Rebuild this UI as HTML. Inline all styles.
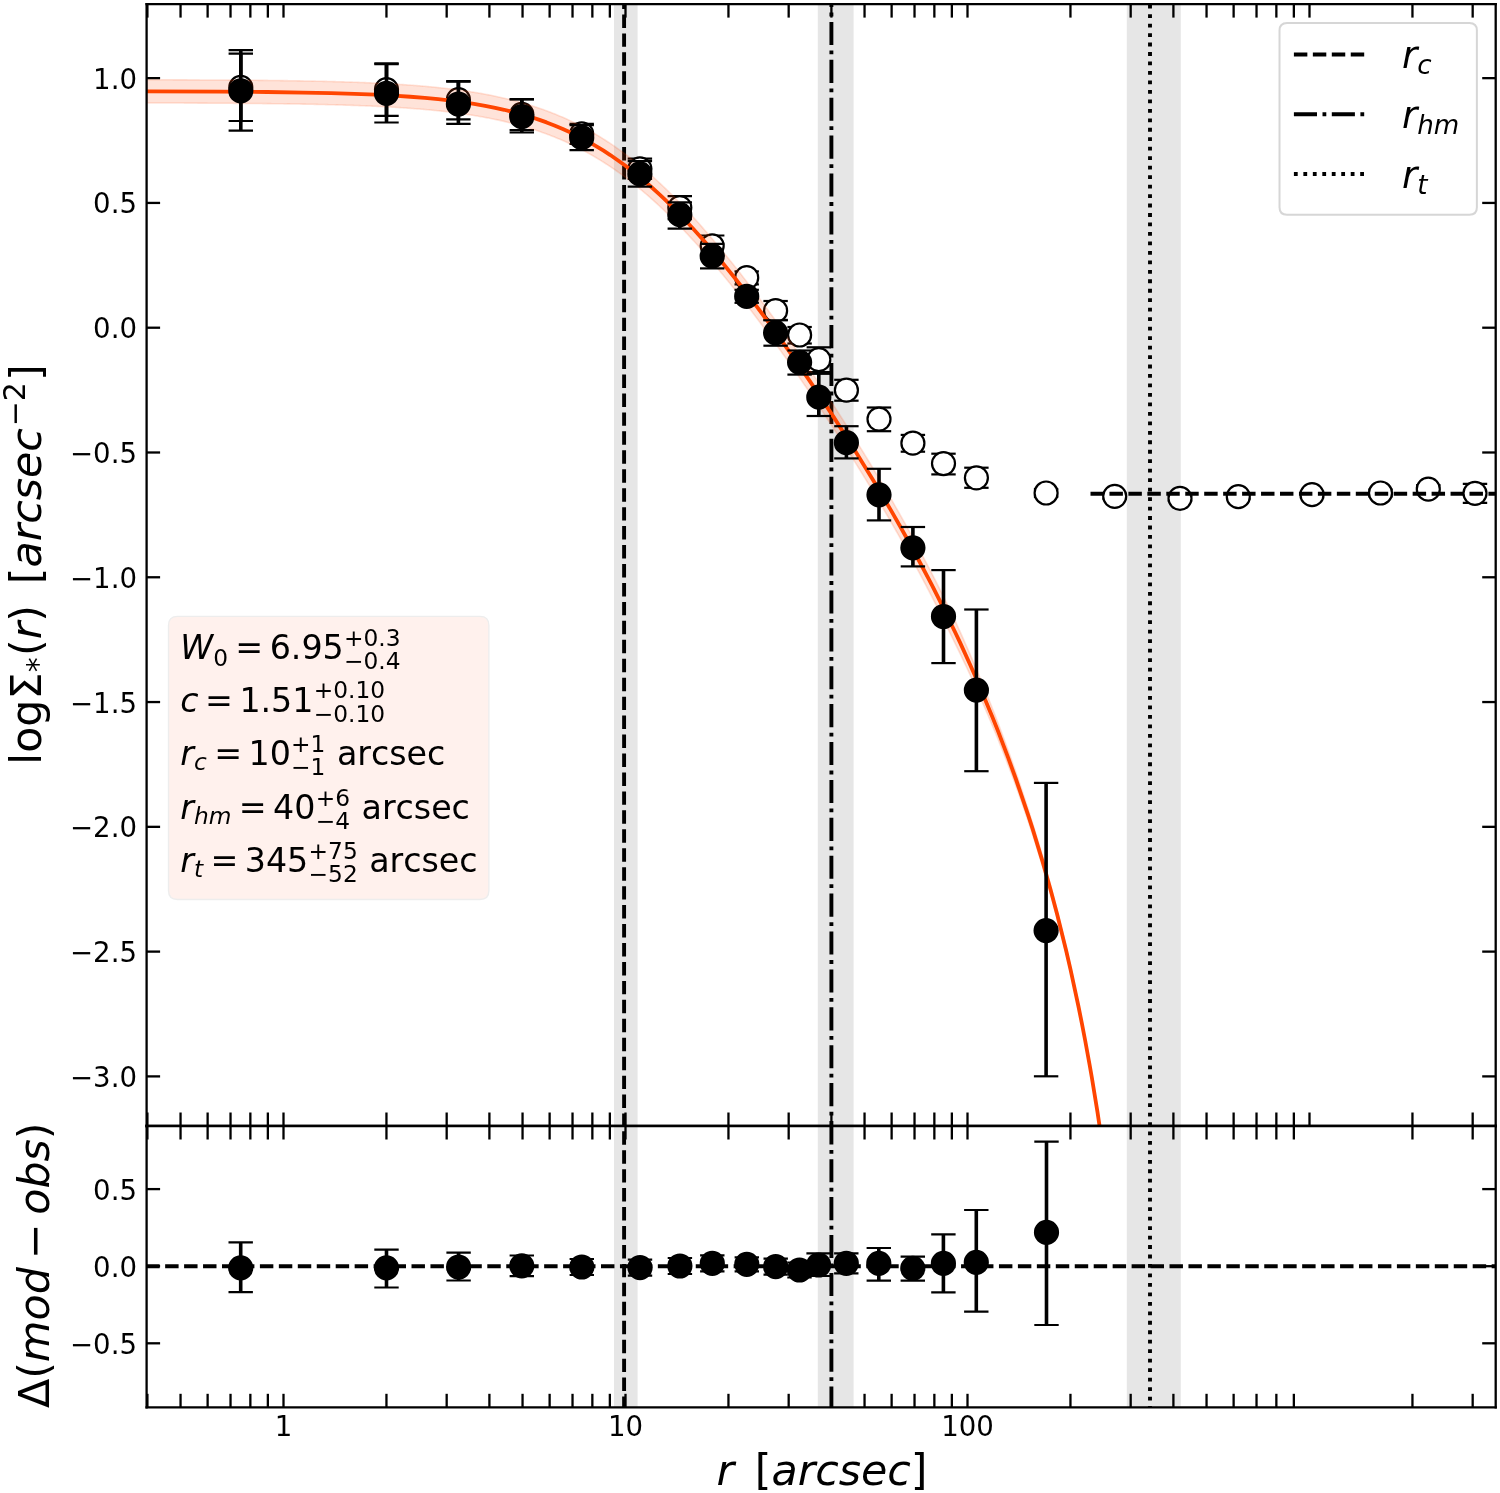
<!DOCTYPE html>
<html lang="en"><head><meta charset="utf-8"><title>King model fit</title>
<style>html,body{margin:0;padding:0;background:#fff;}body{width:1500px;height:1493px;overflow:hidden;font-family:"DejaVu Sans","Liberation Sans",sans-serif;}svg{display:block;}</style></head>
<body>
<svg width="1500" height="1493" viewBox="0 0 1500 1493" role="img" aria-label="King model fit to the stellar surface density profile">
 <defs>
  <style type="text/css">*{stroke-linejoin: round; stroke-linecap: butt}</style>
 </defs>
 <g id="figure_1">
  <g id="patch_1">
   <path d="M 0 1493 
L 1500 1493 
L 1500 0 
L 0 0 
z
" style="fill: #ffffff"/>
  </g>
  <g id="axes_1">
   <g id="patch_2">
    <path d="M 146.6 1126 
L 1495.7 1126 
L 1495.7 4.1 
L 146.6 4.1 
z
" style="fill: #ffffff"/>
   </g>
   <g id="patch_3">
    <path d="M 614 1126 
L 637.6 1126 
L 637.6 4.1 
L 614 4.1 
z
" clip-path="url(#pf368dae28a)" style="fill: #808080; opacity: 0.2"/>
   </g>
   <g id="patch_4">
    <path d="M 817.8 1126 
L 853.6 1126 
L 853.6 4.1 
L 817.8 4.1 
z
" clip-path="url(#pf368dae28a)" style="fill: #808080; opacity: 0.2"/>
   </g>
   <g id="patch_5">
    <path d="M 1126.8 1126 
L 1180.8 1126 
L 1180.8 4.1 
L 1126.8 4.1 
z
" clip-path="url(#pf368dae28a)" style="fill: #808080; opacity: 0.2"/>
   </g>
   <g id="line2d_1">
    <path d="M 624.1 1126 
L 624.1 4.1 
" clip-path="url(#pf368dae28a)" style="fill: none; stroke-dasharray: 13.45,5.5; stroke-dashoffset: 1; stroke: #000000; stroke-width: 3.9"/>
   </g>
   <g id="line2d_2">
    <path d="M 831.4 1126 
L 831.4 4.1 
" clip-path="url(#pf368dae28a)" style="fill: none; stroke-dasharray: 23.1,5.5,3.8,5.5; stroke-dashoffset: 18.1; stroke: #000000; stroke-width: 3.9"/>
   </g>
   <g id="line2d_3">
    <path d="M 1150 1126 
L 1150 4.1 
" clip-path="url(#pf368dae28a)" style="fill: none; stroke-dasharray: 3.8,5.67; stroke-dashoffset: 0; stroke: #000000; stroke-width: 3.9"/>
   </g>
   <g id="LineCollection_1">
    <path d="M 240.8 121 
L 240.8 53.6 
" clip-path="url(#pf368dae28a)" style="fill: none; stroke: #000000; stroke-width: 3.6"/>
    <path d="M 386.5 115.8 
L 386.5 63.3 
" clip-path="url(#pf368dae28a)" style="fill: none; stroke: #000000; stroke-width: 3.6"/>
    <path d="M 458.4 119.4 
L 458.4 81.2 
" clip-path="url(#pf368dae28a)" style="fill: none; stroke: #000000; stroke-width: 3.6"/>
    <path d="M 521.8 130.1 
L 521.8 99.1 
" clip-path="url(#pf368dae28a)" style="fill: none; stroke: #000000; stroke-width: 3.6"/>
    <path d="M 581.7 144 
L 581.7 123.8 
" clip-path="url(#pf368dae28a)" style="fill: none; stroke: #000000; stroke-width: 3.6"/>
    <path d="M 639.9 179 
L 639.9 158.6 
" clip-path="url(#pf368dae28a)" style="fill: none; stroke: #000000; stroke-width: 3.6"/>
    <path d="M 679.8 219.1 
L 679.8 196.1 
" clip-path="url(#pf368dae28a)" style="fill: none; stroke: #000000; stroke-width: 3.6"/>
    <path d="M 712.2 256.1 
L 712.2 235.5 
" clip-path="url(#pf368dae28a)" style="fill: none; stroke: #000000; stroke-width: 3.6"/>
    <path d="M 746.7 284.4 
L 746.7 271.4 
" clip-path="url(#pf368dae28a)" style="fill: none; stroke: #000000; stroke-width: 3.6"/>
    <path d="M 775.6 319.9 
L 775.6 301 
" clip-path="url(#pf368dae28a)" style="fill: none; stroke: #000000; stroke-width: 3.6"/>
    <path d="M 799.6 343.5 
L 799.6 327 
" clip-path="url(#pf368dae28a)" style="fill: none; stroke: #000000; stroke-width: 3.6"/>
    <path d="M 818.8 372.1 
L 818.8 347.3 
" clip-path="url(#pf368dae28a)" style="fill: none; stroke: #000000; stroke-width: 3.6"/>
    <path d="M 846.4 400.7 
L 846.4 379.8 
" clip-path="url(#pf368dae28a)" style="fill: none; stroke: #000000; stroke-width: 3.6"/>
    <path d="M 879 431.2 
L 879 407.5 
" clip-path="url(#pf368dae28a)" style="fill: none; stroke: #000000; stroke-width: 3.6"/>
    <path d="M 912.9 451.7 
L 912.9 434.9 
" clip-path="url(#pf368dae28a)" style="fill: none; stroke: #000000; stroke-width: 3.6"/>
    <path d="M 943.5 474.4 
L 943.5 453.7 
" clip-path="url(#pf368dae28a)" style="fill: none; stroke: #000000; stroke-width: 3.6"/>
    <path d="M 976.4 487.8 
L 976.4 467.7 
" clip-path="url(#pf368dae28a)" style="fill: none; stroke: #000000; stroke-width: 3.6"/>
    <path d="M 1046.1 497 
L 1046.1 489 
" clip-path="url(#pf368dae28a)" style="fill: none; stroke: #000000; stroke-width: 3.6"/>
   </g>
   <g id="line2d_4">
    <defs>
     <path id="m9b4687b812" d="M 12.2 0 
L -12.2 -0 
" style="stroke: #000000; stroke-width: 2.2"/>
    </defs>
    <g clip-path="url(#pf368dae28a)">
     <use xlink:href="#m9b4687b812" x="240.8" y="121" style="fill: #1f77b4; stroke: #000000; stroke-width: 2.2"/>
     <use xlink:href="#m9b4687b812" x="386.5" y="115.8" style="fill: #1f77b4; stroke: #000000; stroke-width: 2.2"/>
     <use xlink:href="#m9b4687b812" x="458.4" y="119.4" style="fill: #1f77b4; stroke: #000000; stroke-width: 2.2"/>
     <use xlink:href="#m9b4687b812" x="521.8" y="130.1" style="fill: #1f77b4; stroke: #000000; stroke-width: 2.2"/>
     <use xlink:href="#m9b4687b812" x="581.7" y="144" style="fill: #1f77b4; stroke: #000000; stroke-width: 2.2"/>
     <use xlink:href="#m9b4687b812" x="639.9" y="179" style="fill: #1f77b4; stroke: #000000; stroke-width: 2.2"/>
     <use xlink:href="#m9b4687b812" x="679.8" y="219.1" style="fill: #1f77b4; stroke: #000000; stroke-width: 2.2"/>
     <use xlink:href="#m9b4687b812" x="712.2" y="256.1" style="fill: #1f77b4; stroke: #000000; stroke-width: 2.2"/>
     <use xlink:href="#m9b4687b812" x="746.7" y="284.4" style="fill: #1f77b4; stroke: #000000; stroke-width: 2.2"/>
     <use xlink:href="#m9b4687b812" x="775.6" y="319.9" style="fill: #1f77b4; stroke: #000000; stroke-width: 2.2"/>
     <use xlink:href="#m9b4687b812" x="799.6" y="343.5" style="fill: #1f77b4; stroke: #000000; stroke-width: 2.2"/>
     <use xlink:href="#m9b4687b812" x="818.8" y="372.1" style="fill: #1f77b4; stroke: #000000; stroke-width: 2.2"/>
     <use xlink:href="#m9b4687b812" x="846.4" y="400.7" style="fill: #1f77b4; stroke: #000000; stroke-width: 2.2"/>
     <use xlink:href="#m9b4687b812" x="879" y="431.2" style="fill: #1f77b4; stroke: #000000; stroke-width: 2.2"/>
     <use xlink:href="#m9b4687b812" x="912.9" y="451.7" style="fill: #1f77b4; stroke: #000000; stroke-width: 2.2"/>
     <use xlink:href="#m9b4687b812" x="943.5" y="474.4" style="fill: #1f77b4; stroke: #000000; stroke-width: 2.2"/>
     <use xlink:href="#m9b4687b812" x="976.4" y="487.8" style="fill: #1f77b4; stroke: #000000; stroke-width: 2.2"/>
     <use xlink:href="#m9b4687b812" x="1046.1" y="497" style="fill: #1f77b4; stroke: #000000; stroke-width: 2.2"/>
    </g>
   </g>
   <g id="line2d_5">
    <g clip-path="url(#pf368dae28a)">
     <use xlink:href="#m9b4687b812" x="240.8" y="53.6" style="fill: #1f77b4; stroke: #000000; stroke-width: 2.2"/>
     <use xlink:href="#m9b4687b812" x="386.5" y="63.3" style="fill: #1f77b4; stroke: #000000; stroke-width: 2.2"/>
     <use xlink:href="#m9b4687b812" x="458.4" y="81.2" style="fill: #1f77b4; stroke: #000000; stroke-width: 2.2"/>
     <use xlink:href="#m9b4687b812" x="521.8" y="99.1" style="fill: #1f77b4; stroke: #000000; stroke-width: 2.2"/>
     <use xlink:href="#m9b4687b812" x="581.7" y="123.8" style="fill: #1f77b4; stroke: #000000; stroke-width: 2.2"/>
     <use xlink:href="#m9b4687b812" x="639.9" y="158.6" style="fill: #1f77b4; stroke: #000000; stroke-width: 2.2"/>
     <use xlink:href="#m9b4687b812" x="679.8" y="196.1" style="fill: #1f77b4; stroke: #000000; stroke-width: 2.2"/>
     <use xlink:href="#m9b4687b812" x="712.2" y="235.5" style="fill: #1f77b4; stroke: #000000; stroke-width: 2.2"/>
     <use xlink:href="#m9b4687b812" x="746.7" y="271.4" style="fill: #1f77b4; stroke: #000000; stroke-width: 2.2"/>
     <use xlink:href="#m9b4687b812" x="775.6" y="301" style="fill: #1f77b4; stroke: #000000; stroke-width: 2.2"/>
     <use xlink:href="#m9b4687b812" x="799.6" y="327" style="fill: #1f77b4; stroke: #000000; stroke-width: 2.2"/>
     <use xlink:href="#m9b4687b812" x="818.8" y="347.3" style="fill: #1f77b4; stroke: #000000; stroke-width: 2.2"/>
     <use xlink:href="#m9b4687b812" x="846.4" y="379.8" style="fill: #1f77b4; stroke: #000000; stroke-width: 2.2"/>
     <use xlink:href="#m9b4687b812" x="879" y="407.5" style="fill: #1f77b4; stroke: #000000; stroke-width: 2.2"/>
     <use xlink:href="#m9b4687b812" x="912.9" y="434.9" style="fill: #1f77b4; stroke: #000000; stroke-width: 2.2"/>
     <use xlink:href="#m9b4687b812" x="943.5" y="453.7" style="fill: #1f77b4; stroke: #000000; stroke-width: 2.2"/>
     <use xlink:href="#m9b4687b812" x="976.4" y="467.7" style="fill: #1f77b4; stroke: #000000; stroke-width: 2.2"/>
     <use xlink:href="#m9b4687b812" x="1046.1" y="489" style="fill: #1f77b4; stroke: #000000; stroke-width: 2.2"/>
    </g>
   </g>
   <g id="LineCollection_2">
    <path d="M 1114.7 498.8 
L 1114.7 493.8 
" clip-path="url(#pf368dae28a)" style="fill: none; stroke: #000000; stroke-width: 3.6"/>
    <path d="M 1180 500.8 
L 1180 495.8 
" clip-path="url(#pf368dae28a)" style="fill: none; stroke: #000000; stroke-width: 3.6"/>
    <path d="M 1238.3 499.2 
L 1238.3 494.2 
" clip-path="url(#pf368dae28a)" style="fill: none; stroke: #000000; stroke-width: 3.6"/>
    <path d="M 1312 497.7 
L 1312 491.7 
" clip-path="url(#pf368dae28a)" style="fill: none; stroke: #000000; stroke-width: 3.6"/>
    <path d="M 1380.5 496.5 
L 1380.5 489.5 
" clip-path="url(#pf368dae28a)" style="fill: none; stroke: #000000; stroke-width: 3.6"/>
    <path d="M 1428.3 493.2 
L 1428.3 485.2 
" clip-path="url(#pf368dae28a)" style="fill: none; stroke: #000000; stroke-width: 3.6"/>
    <path d="M 1475 502.8 
L 1475 483.8 
" clip-path="url(#pf368dae28a)" style="fill: none; stroke: #000000; stroke-width: 3.6"/>
   </g>
   <g id="line2d_6">
    <defs>
     <path id="m1c93d072d0" d="M 12.2 0 
L -12.2 -0 
" style="stroke: #000000; stroke-width: 2.2"/>
    </defs>
    <g clip-path="url(#pf368dae28a)">
     <use xlink:href="#m1c93d072d0" x="1114.7" y="498.8" style="fill: #ff7f0e; stroke: #000000; stroke-width: 2.2"/>
     <use xlink:href="#m1c93d072d0" x="1180" y="500.8" style="fill: #ff7f0e; stroke: #000000; stroke-width: 2.2"/>
     <use xlink:href="#m1c93d072d0" x="1238.3" y="499.2" style="fill: #ff7f0e; stroke: #000000; stroke-width: 2.2"/>
     <use xlink:href="#m1c93d072d0" x="1312" y="497.7" style="fill: #ff7f0e; stroke: #000000; stroke-width: 2.2"/>
     <use xlink:href="#m1c93d072d0" x="1380.5" y="496.5" style="fill: #ff7f0e; stroke: #000000; stroke-width: 2.2"/>
     <use xlink:href="#m1c93d072d0" x="1428.3" y="493.2" style="fill: #ff7f0e; stroke: #000000; stroke-width: 2.2"/>
     <use xlink:href="#m1c93d072d0" x="1475" y="502.8" style="fill: #ff7f0e; stroke: #000000; stroke-width: 2.2"/>
    </g>
   </g>
   <g id="line2d_7">
    <g clip-path="url(#pf368dae28a)">
     <use xlink:href="#m1c93d072d0" x="1114.7" y="493.8" style="fill: #ff7f0e; stroke: #000000; stroke-width: 2.2"/>
     <use xlink:href="#m1c93d072d0" x="1180" y="495.8" style="fill: #ff7f0e; stroke: #000000; stroke-width: 2.2"/>
     <use xlink:href="#m1c93d072d0" x="1238.3" y="494.2" style="fill: #ff7f0e; stroke: #000000; stroke-width: 2.2"/>
     <use xlink:href="#m1c93d072d0" x="1312" y="491.7" style="fill: #ff7f0e; stroke: #000000; stroke-width: 2.2"/>
     <use xlink:href="#m1c93d072d0" x="1380.5" y="489.5" style="fill: #ff7f0e; stroke: #000000; stroke-width: 2.2"/>
     <use xlink:href="#m1c93d072d0" x="1428.3" y="485.2" style="fill: #ff7f0e; stroke: #000000; stroke-width: 2.2"/>
     <use xlink:href="#m1c93d072d0" x="1475" y="483.8" style="fill: #ff7f0e; stroke: #000000; stroke-width: 2.2"/>
    </g>
   </g>
   <g id="line2d_8">
    <defs>
     <path id="mf678dadbcb" d="M 0 11.5 
C 3.049836 11.5 5.975169 10.288287 8.131728 8.131728 
C 10.288287 5.975169 11.5 3.049836 11.5 0 
C 11.5 -3.049836 10.288287 -5.975169 8.131728 -8.131728 
C 5.975169 -10.288287 3.049836 -11.5 0 -11.5 
C -3.049836 -11.5 -5.975169 -10.288287 -8.131728 -8.131728 
C -10.288287 -5.975169 -11.5 -3.049836 -11.5 0 
C -11.5 3.049836 -10.288287 5.975169 -8.131728 8.131728 
C -5.975169 10.288287 -3.049836 11.5 0 11.5 
z
" style="stroke: #000000; stroke-width: 2.2"/>
    </defs>
    <g clip-path="url(#pf368dae28a)">
     <use xlink:href="#mf678dadbcb" x="240.8" y="87.3" style="fill: #ffffff; stroke: #000000; stroke-width: 2.2"/>
     <use xlink:href="#mf678dadbcb" x="386.5" y="89.7" style="fill: #ffffff; stroke: #000000; stroke-width: 2.2"/>
     <use xlink:href="#mf678dadbcb" x="458.4" y="99.7" style="fill: #ffffff; stroke: #000000; stroke-width: 2.2"/>
     <use xlink:href="#mf678dadbcb" x="521.8" y="114.3" style="fill: #ffffff; stroke: #000000; stroke-width: 2.2"/>
     <use xlink:href="#mf678dadbcb" x="581.7" y="133.9" style="fill: #ffffff; stroke: #000000; stroke-width: 2.2"/>
     <use xlink:href="#mf678dadbcb" x="639.9" y="168.8" style="fill: #ffffff; stroke: #000000; stroke-width: 2.2"/>
     <use xlink:href="#mf678dadbcb" x="679.8" y="207.6" style="fill: #ffffff; stroke: #000000; stroke-width: 2.2"/>
     <use xlink:href="#mf678dadbcb" x="712.2" y="245.8" style="fill: #ffffff; stroke: #000000; stroke-width: 2.2"/>
     <use xlink:href="#mf678dadbcb" x="746.7" y="277.7" style="fill: #ffffff; stroke: #000000; stroke-width: 2.2"/>
     <use xlink:href="#mf678dadbcb" x="775.6" y="310.7" style="fill: #ffffff; stroke: #000000; stroke-width: 2.2"/>
     <use xlink:href="#mf678dadbcb" x="799.6" y="335" style="fill: #ffffff; stroke: #000000; stroke-width: 2.2"/>
     <use xlink:href="#mf678dadbcb" x="818.8" y="359.7" style="fill: #ffffff; stroke: #000000; stroke-width: 2.2"/>
     <use xlink:href="#mf678dadbcb" x="846.4" y="390.2" style="fill: #ffffff; stroke: #000000; stroke-width: 2.2"/>
     <use xlink:href="#mf678dadbcb" x="879" y="419.1" style="fill: #ffffff; stroke: #000000; stroke-width: 2.2"/>
     <use xlink:href="#mf678dadbcb" x="912.9" y="443.2" style="fill: #ffffff; stroke: #000000; stroke-width: 2.2"/>
     <use xlink:href="#mf678dadbcb" x="943.5" y="463.6" style="fill: #ffffff; stroke: #000000; stroke-width: 2.2"/>
     <use xlink:href="#mf678dadbcb" x="976.4" y="477.8" style="fill: #ffffff; stroke: #000000; stroke-width: 2.2"/>
     <use xlink:href="#mf678dadbcb" x="1046.1" y="493" style="fill: #ffffff; stroke: #000000; stroke-width: 2.2"/>
    </g>
   </g>
   <g id="line2d_9">
    <g clip-path="url(#pf368dae28a)">
     <use xlink:href="#mf678dadbcb" x="1114.7" y="496.3" style="fill: #ffffff; stroke: #000000; stroke-width: 2.2"/>
     <use xlink:href="#mf678dadbcb" x="1180" y="498.3" style="fill: #ffffff; stroke: #000000; stroke-width: 2.2"/>
     <use xlink:href="#mf678dadbcb" x="1238.3" y="496.7" style="fill: #ffffff; stroke: #000000; stroke-width: 2.2"/>
     <use xlink:href="#mf678dadbcb" x="1312" y="494.7" style="fill: #ffffff; stroke: #000000; stroke-width: 2.2"/>
     <use xlink:href="#mf678dadbcb" x="1380.5" y="493" style="fill: #ffffff; stroke: #000000; stroke-width: 2.2"/>
     <use xlink:href="#mf678dadbcb" x="1428.3" y="489.2" style="fill: #ffffff; stroke: #000000; stroke-width: 2.2"/>
     <use xlink:href="#mf678dadbcb" x="1475" y="493.3" style="fill: #ffffff; stroke: #000000; stroke-width: 2.2"/>
    </g>
   </g>
   <g id="matplotlib.axis_1">
    <g id="xtick_1">
     <g id="line2d_10">
      <defs>
       <path id="m3c8b9e64c5" d="M 0 0 
L 0 -13.5 
" style="stroke: #000000; stroke-width: 2.3"/>
      </defs>
      <g>
       <use xlink:href="#m3c8b9e64c5" x="283.5" y="1126" style="stroke: #000000; stroke-width: 2.3"/>
      </g>
     </g>
     <g id="line2d_11">
      <defs>
       <path id="m40d219a0ed" d="M 0 0 
L 0 13.5 
" style="stroke: #000000; stroke-width: 2.3"/>
      </defs>
      <g>
       <use xlink:href="#m40d219a0ed" x="283.5" y="4.1" style="stroke: #000000; stroke-width: 2.3"/>
      </g>
     </g>
    </g>
    <g id="xtick_2">
     <g id="line2d_12">
      <g>
       <use xlink:href="#m3c8b9e64c5" x="625.5" y="1126" style="stroke: #000000; stroke-width: 2.3"/>
      </g>
     </g>
     <g id="line2d_13">
      <g>
       <use xlink:href="#m40d219a0ed" x="625.5" y="4.1" style="stroke: #000000; stroke-width: 2.3"/>
      </g>
     </g>
    </g>
    <g id="xtick_3">
     <g id="line2d_14">
      <g>
       <use xlink:href="#m3c8b9e64c5" x="967.5" y="1126" style="stroke: #000000; stroke-width: 2.3"/>
      </g>
     </g>
     <g id="line2d_15">
      <g>
       <use xlink:href="#m40d219a0ed" x="967.5" y="4.1" style="stroke: #000000; stroke-width: 2.3"/>
      </g>
     </g>
    </g>
    <g id="xtick_4">
     <g id="line2d_16">
      <g>
       <use xlink:href="#m3c8b9e64c5" x="1309.5" y="1126" style="stroke: #000000; stroke-width: 2.3"/>
      </g>
     </g>
     <g id="line2d_17">
      <g>
       <use xlink:href="#m40d219a0ed" x="1309.5" y="4.1" style="stroke: #000000; stroke-width: 2.3"/>
      </g>
     </g>
    </g>
    <g id="xtick_5">
     <g id="line2d_18">
      <g>
       <use xlink:href="#m3c8b9e64c5" x="147.404517" y="1126" style="stroke: #000000; stroke-width: 2.3"/>
      </g>
     </g>
     <g id="line2d_19">
      <g>
       <use xlink:href="#m40d219a0ed" x="147.404517" y="4.1" style="stroke: #000000; stroke-width: 2.3"/>
      </g>
     </g>
    </g>
    <g id="xtick_6">
     <g id="line2d_20">
      <g>
       <use xlink:href="#m3c8b9e64c5" x="180.547741" y="1126" style="stroke: #000000; stroke-width: 2.3"/>
      </g>
     </g>
     <g id="line2d_21">
      <g>
       <use xlink:href="#m40d219a0ed" x="180.547741" y="4.1" style="stroke: #000000; stroke-width: 2.3"/>
      </g>
     </g>
    </g>
    <g id="xtick_7">
     <g id="line2d_22">
      <g>
       <use xlink:href="#m3c8b9e64c5" x="207.627728" y="1126" style="stroke: #000000; stroke-width: 2.3"/>
      </g>
     </g>
     <g id="line2d_23">
      <g>
       <use xlink:href="#m40d219a0ed" x="207.627728" y="4.1" style="stroke: #000000; stroke-width: 2.3"/>
      </g>
     </g>
    </g>
    <g id="xtick_8">
     <g id="line2d_24">
      <g>
       <use xlink:href="#m3c8b9e64c5" x="230.52353" y="1126" style="stroke: #000000; stroke-width: 2.3"/>
      </g>
     </g>
     <g id="line2d_25">
      <g>
       <use xlink:href="#m40d219a0ed" x="230.52353" y="4.1" style="stroke: #000000; stroke-width: 2.3"/>
      </g>
     </g>
    </g>
    <g id="xtick_9">
     <g id="line2d_26">
      <g>
       <use xlink:href="#m3c8b9e64c5" x="250.356776" y="1126" style="stroke: #000000; stroke-width: 2.3"/>
      </g>
     </g>
     <g id="line2d_27">
      <g>
       <use xlink:href="#m40d219a0ed" x="250.356776" y="4.1" style="stroke: #000000; stroke-width: 2.3"/>
      </g>
     </g>
    </g>
    <g id="xtick_10">
     <g id="line2d_28">
      <g>
       <use xlink:href="#m3c8b9e64c5" x="267.850938" y="1126" style="stroke: #000000; stroke-width: 2.3"/>
      </g>
     </g>
     <g id="line2d_29">
      <g>
       <use xlink:href="#m40d219a0ed" x="267.850938" y="4.1" style="stroke: #000000; stroke-width: 2.3"/>
      </g>
     </g>
    </g>
    <g id="xtick_11">
     <g id="line2d_30">
      <g>
       <use xlink:href="#m3c8b9e64c5" x="386.452259" y="1126" style="stroke: #000000; stroke-width: 2.3"/>
      </g>
     </g>
     <g id="line2d_31">
      <g>
       <use xlink:href="#m40d219a0ed" x="386.452259" y="4.1" style="stroke: #000000; stroke-width: 2.3"/>
      </g>
     </g>
    </g>
    <g id="xtick_12">
     <g id="line2d_32">
      <g>
       <use xlink:href="#m3c8b9e64c5" x="446.675469" y="1126" style="stroke: #000000; stroke-width: 2.3"/>
      </g>
     </g>
     <g id="line2d_33">
      <g>
       <use xlink:href="#m40d219a0ed" x="446.675469" y="4.1" style="stroke: #000000; stroke-width: 2.3"/>
      </g>
     </g>
    </g>
    <g id="xtick_13">
     <g id="line2d_34">
      <g>
       <use xlink:href="#m3c8b9e64c5" x="489.404517" y="1126" style="stroke: #000000; stroke-width: 2.3"/>
      </g>
     </g>
     <g id="line2d_35">
      <g>
       <use xlink:href="#m40d219a0ed" x="489.404517" y="4.1" style="stroke: #000000; stroke-width: 2.3"/>
      </g>
     </g>
    </g>
    <g id="xtick_14">
     <g id="line2d_36">
      <g>
       <use xlink:href="#m3c8b9e64c5" x="522.547741" y="1126" style="stroke: #000000; stroke-width: 2.3"/>
      </g>
     </g>
     <g id="line2d_37">
      <g>
       <use xlink:href="#m40d219a0ed" x="522.547741" y="4.1" style="stroke: #000000; stroke-width: 2.3"/>
      </g>
     </g>
    </g>
    <g id="xtick_15">
     <g id="line2d_38">
      <g>
       <use xlink:href="#m3c8b9e64c5" x="549.627728" y="1126" style="stroke: #000000; stroke-width: 2.3"/>
      </g>
     </g>
     <g id="line2d_39">
      <g>
       <use xlink:href="#m40d219a0ed" x="549.627728" y="4.1" style="stroke: #000000; stroke-width: 2.3"/>
      </g>
     </g>
    </g>
    <g id="xtick_16">
     <g id="line2d_40">
      <g>
       <use xlink:href="#m3c8b9e64c5" x="572.52353" y="1126" style="stroke: #000000; stroke-width: 2.3"/>
      </g>
     </g>
     <g id="line2d_41">
      <g>
       <use xlink:href="#m40d219a0ed" x="572.52353" y="4.1" style="stroke: #000000; stroke-width: 2.3"/>
      </g>
     </g>
    </g>
    <g id="xtick_17">
     <g id="line2d_42">
      <g>
       <use xlink:href="#m3c8b9e64c5" x="592.356776" y="1126" style="stroke: #000000; stroke-width: 2.3"/>
      </g>
     </g>
     <g id="line2d_43">
      <g>
       <use xlink:href="#m40d219a0ed" x="592.356776" y="4.1" style="stroke: #000000; stroke-width: 2.3"/>
      </g>
     </g>
    </g>
    <g id="xtick_18">
     <g id="line2d_44">
      <g>
       <use xlink:href="#m3c8b9e64c5" x="609.850938" y="1126" style="stroke: #000000; stroke-width: 2.3"/>
      </g>
     </g>
     <g id="line2d_45">
      <g>
       <use xlink:href="#m40d219a0ed" x="609.850938" y="4.1" style="stroke: #000000; stroke-width: 2.3"/>
      </g>
     </g>
    </g>
    <g id="xtick_19">
     <g id="line2d_46">
      <g>
       <use xlink:href="#m3c8b9e64c5" x="728.452259" y="1126" style="stroke: #000000; stroke-width: 2.3"/>
      </g>
     </g>
     <g id="line2d_47">
      <g>
       <use xlink:href="#m40d219a0ed" x="728.452259" y="4.1" style="stroke: #000000; stroke-width: 2.3"/>
      </g>
     </g>
    </g>
    <g id="xtick_20">
     <g id="line2d_48">
      <g>
       <use xlink:href="#m3c8b9e64c5" x="788.675469" y="1126" style="stroke: #000000; stroke-width: 2.3"/>
      </g>
     </g>
     <g id="line2d_49">
      <g>
       <use xlink:href="#m40d219a0ed" x="788.675469" y="4.1" style="stroke: #000000; stroke-width: 2.3"/>
      </g>
     </g>
    </g>
    <g id="xtick_21">
     <g id="line2d_50">
      <g>
       <use xlink:href="#m3c8b9e64c5" x="831.404517" y="1126" style="stroke: #000000; stroke-width: 2.3"/>
      </g>
     </g>
     <g id="line2d_51">
      <g>
       <use xlink:href="#m40d219a0ed" x="831.404517" y="4.1" style="stroke: #000000; stroke-width: 2.3"/>
      </g>
     </g>
    </g>
    <g id="xtick_22">
     <g id="line2d_52">
      <g>
       <use xlink:href="#m3c8b9e64c5" x="864.547741" y="1126" style="stroke: #000000; stroke-width: 2.3"/>
      </g>
     </g>
     <g id="line2d_53">
      <g>
       <use xlink:href="#m40d219a0ed" x="864.547741" y="4.1" style="stroke: #000000; stroke-width: 2.3"/>
      </g>
     </g>
    </g>
    <g id="xtick_23">
     <g id="line2d_54">
      <g>
       <use xlink:href="#m3c8b9e64c5" x="891.627728" y="1126" style="stroke: #000000; stroke-width: 2.3"/>
      </g>
     </g>
     <g id="line2d_55">
      <g>
       <use xlink:href="#m40d219a0ed" x="891.627728" y="4.1" style="stroke: #000000; stroke-width: 2.3"/>
      </g>
     </g>
    </g>
    <g id="xtick_24">
     <g id="line2d_56">
      <g>
       <use xlink:href="#m3c8b9e64c5" x="914.52353" y="1126" style="stroke: #000000; stroke-width: 2.3"/>
      </g>
     </g>
     <g id="line2d_57">
      <g>
       <use xlink:href="#m40d219a0ed" x="914.52353" y="4.1" style="stroke: #000000; stroke-width: 2.3"/>
      </g>
     </g>
    </g>
    <g id="xtick_25">
     <g id="line2d_58">
      <g>
       <use xlink:href="#m3c8b9e64c5" x="934.356776" y="1126" style="stroke: #000000; stroke-width: 2.3"/>
      </g>
     </g>
     <g id="line2d_59">
      <g>
       <use xlink:href="#m40d219a0ed" x="934.356776" y="4.1" style="stroke: #000000; stroke-width: 2.3"/>
      </g>
     </g>
    </g>
    <g id="xtick_26">
     <g id="line2d_60">
      <g>
       <use xlink:href="#m3c8b9e64c5" x="951.850938" y="1126" style="stroke: #000000; stroke-width: 2.3"/>
      </g>
     </g>
     <g id="line2d_61">
      <g>
       <use xlink:href="#m40d219a0ed" x="951.850938" y="4.1" style="stroke: #000000; stroke-width: 2.3"/>
      </g>
     </g>
    </g>
    <g id="xtick_27">
     <g id="line2d_62">
      <g>
       <use xlink:href="#m3c8b9e64c5" x="1070.452259" y="1126" style="stroke: #000000; stroke-width: 2.3"/>
      </g>
     </g>
     <g id="line2d_63">
      <g>
       <use xlink:href="#m40d219a0ed" x="1070.452259" y="4.1" style="stroke: #000000; stroke-width: 2.3"/>
      </g>
     </g>
    </g>
    <g id="xtick_28">
     <g id="line2d_64">
      <g>
       <use xlink:href="#m3c8b9e64c5" x="1130.675469" y="1126" style="stroke: #000000; stroke-width: 2.3"/>
      </g>
     </g>
     <g id="line2d_65">
      <g>
       <use xlink:href="#m40d219a0ed" x="1130.675469" y="4.1" style="stroke: #000000; stroke-width: 2.3"/>
      </g>
     </g>
    </g>
    <g id="xtick_29">
     <g id="line2d_66">
      <g>
       <use xlink:href="#m3c8b9e64c5" x="1173.404517" y="1126" style="stroke: #000000; stroke-width: 2.3"/>
      </g>
     </g>
     <g id="line2d_67">
      <g>
       <use xlink:href="#m40d219a0ed" x="1173.404517" y="4.1" style="stroke: #000000; stroke-width: 2.3"/>
      </g>
     </g>
    </g>
    <g id="xtick_30">
     <g id="line2d_68">
      <g>
       <use xlink:href="#m3c8b9e64c5" x="1206.547741" y="1126" style="stroke: #000000; stroke-width: 2.3"/>
      </g>
     </g>
     <g id="line2d_69">
      <g>
       <use xlink:href="#m40d219a0ed" x="1206.547741" y="4.1" style="stroke: #000000; stroke-width: 2.3"/>
      </g>
     </g>
    </g>
    <g id="xtick_31">
     <g id="line2d_70">
      <g>
       <use xlink:href="#m3c8b9e64c5" x="1233.627728" y="1126" style="stroke: #000000; stroke-width: 2.3"/>
      </g>
     </g>
     <g id="line2d_71">
      <g>
       <use xlink:href="#m40d219a0ed" x="1233.627728" y="4.1" style="stroke: #000000; stroke-width: 2.3"/>
      </g>
     </g>
    </g>
    <g id="xtick_32">
     <g id="line2d_72">
      <g>
       <use xlink:href="#m3c8b9e64c5" x="1256.52353" y="1126" style="stroke: #000000; stroke-width: 2.3"/>
      </g>
     </g>
     <g id="line2d_73">
      <g>
       <use xlink:href="#m40d219a0ed" x="1256.52353" y="4.1" style="stroke: #000000; stroke-width: 2.3"/>
      </g>
     </g>
    </g>
    <g id="xtick_33">
     <g id="line2d_74">
      <g>
       <use xlink:href="#m3c8b9e64c5" x="1276.356776" y="1126" style="stroke: #000000; stroke-width: 2.3"/>
      </g>
     </g>
     <g id="line2d_75">
      <g>
       <use xlink:href="#m40d219a0ed" x="1276.356776" y="4.1" style="stroke: #000000; stroke-width: 2.3"/>
      </g>
     </g>
    </g>
    <g id="xtick_34">
     <g id="line2d_76">
      <g>
       <use xlink:href="#m3c8b9e64c5" x="1293.850938" y="1126" style="stroke: #000000; stroke-width: 2.3"/>
      </g>
     </g>
     <g id="line2d_77">
      <g>
       <use xlink:href="#m40d219a0ed" x="1293.850938" y="4.1" style="stroke: #000000; stroke-width: 2.3"/>
      </g>
     </g>
    </g>
    <g id="xtick_35">
     <g id="line2d_78">
      <g>
       <use xlink:href="#m3c8b9e64c5" x="1412.452259" y="1126" style="stroke: #000000; stroke-width: 2.3"/>
      </g>
     </g>
     <g id="line2d_79">
      <g>
       <use xlink:href="#m40d219a0ed" x="1412.452259" y="4.1" style="stroke: #000000; stroke-width: 2.3"/>
      </g>
     </g>
    </g>
    <g id="xtick_36">
     <g id="line2d_80">
      <g>
       <use xlink:href="#m3c8b9e64c5" x="1472.675469" y="1126" style="stroke: #000000; stroke-width: 2.3"/>
      </g>
     </g>
     <g id="line2d_81">
      <g>
       <use xlink:href="#m40d219a0ed" x="1472.675469" y="4.1" style="stroke: #000000; stroke-width: 2.3"/>
      </g>
     </g>
    </g>
   </g>
   <g id="matplotlib.axis_2">
    <g id="ytick_1">
     <g id="line2d_82">
      <defs>
       <path id="m7696badb13" d="M 0 0 
L 13.5 0 
" style="stroke: #000000; stroke-width: 2.3"/>
      </defs>
      <g>
       <use xlink:href="#m7696badb13" x="146.6" y="1076.391118" style="stroke: #000000; stroke-width: 2.3"/>
      </g>
     </g>
     <g id="line2d_83">
      <defs>
       <path id="m417fa5fb0a" d="M 0 0 
L -13.5 0 
" style="stroke: #000000; stroke-width: 2.3"/>
      </defs>
      <g>
       <use xlink:href="#m417fa5fb0a" x="1495.7" y="1076.391118" style="stroke: #000000; stroke-width: 2.3"/>
      </g>
     </g>
     <g id="text_1">
      <text style="font-size: 27.6px; font-family: 'DejaVu Sans', 'Liberation Sans', sans-serif; text-anchor: end" x="137" y="1086.876962" transform="rotate(-0 137 1086.876962)">−3.0</text>
     </g>
    </g>
    <g id="ytick_2">
     <g id="line2d_84">
      <g>
       <use xlink:href="#m7696badb13" x="146.6" y="951.611184" style="stroke: #000000; stroke-width: 2.3"/>
      </g>
     </g>
     <g id="line2d_85">
      <g>
       <use xlink:href="#m417fa5fb0a" x="1495.7" y="951.611184" style="stroke: #000000; stroke-width: 2.3"/>
      </g>
     </g>
     <g id="text_2">
      <text style="font-size: 27.6px; font-family: 'DejaVu Sans', 'Liberation Sans', sans-serif; text-anchor: end" x="137" y="962.097028" transform="rotate(-0 137 962.097028)">−2.5</text>
     </g>
    </g>
    <g id="ytick_3">
     <g id="line2d_86">
      <g>
       <use xlink:href="#m7696badb13" x="146.6" y="826.83125" style="stroke: #000000; stroke-width: 2.3"/>
      </g>
     </g>
     <g id="line2d_87">
      <g>
       <use xlink:href="#m417fa5fb0a" x="1495.7" y="826.83125" style="stroke: #000000; stroke-width: 2.3"/>
      </g>
     </g>
     <g id="text_3">
      <text style="font-size: 27.6px; font-family: 'DejaVu Sans', 'Liberation Sans', sans-serif; text-anchor: end" x="137" y="837.317094" transform="rotate(-0 137 837.317094)">−2.0</text>
     </g>
    </g>
    <g id="ytick_4">
     <g id="line2d_88">
      <g>
       <use xlink:href="#m7696badb13" x="146.6" y="702.051316" style="stroke: #000000; stroke-width: 2.3"/>
      </g>
     </g>
     <g id="line2d_89">
      <g>
       <use xlink:href="#m417fa5fb0a" x="1495.7" y="702.051316" style="stroke: #000000; stroke-width: 2.3"/>
      </g>
     </g>
     <g id="text_4">
      <text style="font-size: 27.6px; font-family: 'DejaVu Sans', 'Liberation Sans', sans-serif; text-anchor: end" x="137" y="712.53716" transform="rotate(-0 137 712.53716)">−1.5</text>
     </g>
    </g>
    <g id="ytick_5">
     <g id="line2d_90">
      <g>
       <use xlink:href="#m7696badb13" x="146.6" y="577.271382" style="stroke: #000000; stroke-width: 2.3"/>
      </g>
     </g>
     <g id="line2d_91">
      <g>
       <use xlink:href="#m417fa5fb0a" x="1495.7" y="577.271382" style="stroke: #000000; stroke-width: 2.3"/>
      </g>
     </g>
     <g id="text_5">
      <text style="font-size: 27.6px; font-family: 'DejaVu Sans', 'Liberation Sans', sans-serif; text-anchor: end" x="137" y="587.757225" transform="rotate(-0 137 587.757225)">−1.0</text>
     </g>
    </g>
    <g id="ytick_6">
     <g id="line2d_92">
      <g>
       <use xlink:href="#m7696badb13" x="146.6" y="452.491447" style="stroke: #000000; stroke-width: 2.3"/>
      </g>
     </g>
     <g id="line2d_93">
      <g>
       <use xlink:href="#m417fa5fb0a" x="1495.7" y="452.491447" style="stroke: #000000; stroke-width: 2.3"/>
      </g>
     </g>
     <g id="text_6">
      <text style="font-size: 27.6px; font-family: 'DejaVu Sans', 'Liberation Sans', sans-serif; text-anchor: end" x="137" y="462.977291" transform="rotate(-0 137 462.977291)">−0.5</text>
     </g>
    </g>
    <g id="ytick_7">
     <g id="line2d_94">
      <g>
       <use xlink:href="#m7696badb13" x="146.6" y="327.711513" style="stroke: #000000; stroke-width: 2.3"/>
      </g>
     </g>
     <g id="line2d_95">
      <g>
       <use xlink:href="#m417fa5fb0a" x="1495.7" y="327.711513" style="stroke: #000000; stroke-width: 2.3"/>
      </g>
     </g>
     <g id="text_7">
      <text style="font-size: 27.6px; font-family: 'DejaVu Sans', 'Liberation Sans', sans-serif; text-anchor: end" x="137" y="338.197357" transform="rotate(-0 137 338.197357)">0.0</text>
     </g>
    </g>
    <g id="ytick_8">
     <g id="line2d_96">
      <g>
       <use xlink:href="#m7696badb13" x="146.6" y="202.931579" style="stroke: #000000; stroke-width: 2.3"/>
      </g>
     </g>
     <g id="line2d_97">
      <g>
       <use xlink:href="#m417fa5fb0a" x="1495.7" y="202.931579" style="stroke: #000000; stroke-width: 2.3"/>
      </g>
     </g>
     <g id="text_8">
      <text style="font-size: 27.6px; font-family: 'DejaVu Sans', 'Liberation Sans', sans-serif; text-anchor: end" x="137" y="213.417423" transform="rotate(-0 137 213.417423)">0.5</text>
     </g>
    </g>
    <g id="ytick_9">
     <g id="line2d_98">
      <g>
       <use xlink:href="#m7696badb13" x="146.6" y="78.151645" style="stroke: #000000; stroke-width: 2.3"/>
      </g>
     </g>
     <g id="line2d_99">
      <g>
       <use xlink:href="#m417fa5fb0a" x="1495.7" y="78.151645" style="stroke: #000000; stroke-width: 2.3"/>
      </g>
     </g>
     <g id="text_9">
      <text style="font-size: 27.6px; font-family: 'DejaVu Sans', 'Liberation Sans', sans-serif; text-anchor: end" x="137" y="88.637488" transform="rotate(-0 137 88.637488)">1.0</text>
     </g>
    </g>
    <g id="text_10">
     <g transform="translate(41.2 764.718) rotate(-90)">
      <text><tspan x="0.000 11.877 38.032 65.169" y="-0.19375" style="font-size: 42.8px; font-family: 'DejaVu Sans', 'Liberation Sans', sans-serif">logΣ</tspan><tspan x="92.591" y="6.860937" style="font-size: 29.96px; font-family: 'DejaVu Sans', 'Liberation Sans', sans-serif">*</tspan><tspan x="108.729" y="-0.19375" style="font-size: 42.8px; font-family: 'DejaVu Sans', 'Liberation Sans', sans-serif">(</tspan><tspan x="125.408" y="-0.19375" style="font-style: oblique; font-size: 42.8px; font-family: 'DejaVu Sans', 'Liberation Sans', sans-serif">r</tspan><tspan x="142.984" y="-0.19375" style="font-size: 42.8px; font-family: 'DejaVu Sans', 'Liberation Sans', sans-serif">)</tspan> <tspan x="180.484" y="-0.19375" style="font-size: 42.8px; font-family: 'DejaVu Sans', 'Liberation Sans', sans-serif">[</tspan><tspan x="197.162 223.359 240.935 264.439 286.712 313.013" y="-0.19375" style="font-style: oblique; font-size: 42.8px; font-family: 'DejaVu Sans', 'Liberation Sans', sans-serif">arcsec</tspan><tspan x="338.516 363.590" y="-16.654688" style="font-size: 29.96px; font-family: 'DejaVu Sans', 'Liberation Sans', sans-serif">−2</tspan><tspan x="383.805" y="-0.19375" style="font-size: 42.8px; font-family: 'DejaVu Sans', 'Liberation Sans', sans-serif">]</tspan></text>
     </g>
    </g>
   </g>
   <g id="line2d_100">
    <path d="M 1090.5 493.7 
L 1495.7 493.7 
" clip-path="url(#pf368dae28a)" style="fill: none; stroke-dasharray: 13.45,5.5; stroke-dashoffset: 0; stroke: #000000; stroke-width: 3.9"/>
   </g>
   <g id="FillBetweenPolyCollection_1">
    <path d="M 146.6 79.757882 
L 146.6 102.96695 
L 147.717297 102.969428 
L 148.834594 102.971927 
L 149.951891 102.974445 
L 151.069188 102.977035 
L 152.186486 102.979651 
L 153.303783 102.982287 
L 154.42108 102.984992 
L 155.538377 102.98773 
L 156.655674 102.990489 
L 157.772971 102.993316 
L 158.890268 102.996182 
L 160.007565 102.99907 
L 161.124862 103.002023 
L 162.242159 103.005023 
L 163.359457 103.008046 
L 164.476754 103.011132 
L 165.594051 103.014272 
L 166.711348 103.017436 
L 167.828645 103.02066 
L 168.945942 103.023947 
L 170.063239 103.027258 
L 171.180536 103.030627 
L 172.297833 103.034067 
L 173.41513 103.037534 
L 174.532428 103.041053 
L 175.649725 103.044654 
L 176.767022 103.048282 
L 177.884319 103.051959 
L 179.001616 103.055728 
L 180.118913 103.059526 
L 181.23621 103.063368 
L 182.353507 103.067313 
L 183.470804 103.071288 
L 184.588101 103.075301 
L 185.705399 103.079431 
L 186.822696 103.083591 
L 187.939993 103.087785 
L 189.05729 103.092106 
L 190.174587 103.096461 
L 191.291884 103.100849 
L 192.409181 103.105366 
L 193.526478 103.109924 
L 194.643775 103.114516 
L 195.761073 103.119236 
L 196.87837 103.124006 
L 197.995667 103.128813 
L 199.112964 103.133744 
L 200.230261 103.138737 
L 201.347558 103.143768 
L 202.464855 103.148919 
L 203.582152 103.154146 
L 204.699449 103.159411 
L 205.816746 103.164794 
L 206.934044 103.170263 
L 208.051341 103.175775 
L 209.168638 103.181398 
L 210.285935 103.187123 
L 211.403232 103.192891 
L 212.520529 103.198766 
L 213.637826 103.204758 
L 214.755123 103.210796 
L 215.87242 103.216933 
L 216.989717 103.223205 
L 218.107015 103.229524 
L 219.224312 103.235936 
L 220.341609 103.2425 
L 221.458906 103.249113 
L 222.576203 103.255812 
L 223.6935 103.262682 
L 224.810797 103.269603 
L 225.928094 103.276602 
L 227.045391 103.283792 
L 228.162688 103.291036 
L 229.279986 103.298348 
L 230.397283 103.305872 
L 231.51458 103.313454 
L 232.631877 103.321094 
L 233.749174 103.328968 
L 234.866471 103.336903 
L 235.983768 103.344898 
L 237.101065 103.353124 
L 238.218362 103.361429 
L 239.33566 103.369797 
L 240.452957 103.37839 
L 241.570254 103.387082 
L 242.687551 103.395839 
L 243.804848 103.404817 
L 244.922145 103.413913 
L 246.039442 103.423078 
L 247.156739 103.432457 
L 248.274036 103.441976 
L 249.391333 103.451568 
L 250.508631 103.461366 
L 251.625928 103.471328 
L 252.743225 103.481366 
L 253.860522 103.491602 
L 254.977819 103.502028 
L 256.095116 103.512533 
L 257.212413 103.523226 
L 258.32971 103.534136 
L 259.447007 103.545129 
L 260.564304 103.5563 
L 261.681602 103.567717 
L 262.798899 103.579222 
L 263.916196 103.59089 
L 265.033493 103.602838 
L 266.15079 103.614878 
L 267.268087 103.627067 
L 268.385384 103.63957 
L 269.502681 103.652168 
L 270.619978 103.664901 
L 271.737275 103.677985 
L 272.854573 103.691169 
L 273.97187 103.704469 
L 275.089167 103.71816 
L 276.206464 103.731956 
L 277.323761 103.745858 
L 278.441058 103.760176 
L 279.558355 103.774612 
L 280.675652 103.789159 
L 281.792949 103.804115 
L 282.910246 103.819221 
L 284.027544 103.834443 
L 285.144841 103.850065 
L 286.262138 103.865872 
L 287.379435 103.881801 
L 288.496732 103.898118 
L 289.614029 103.914658 
L 290.731326 103.931325 
L 291.848623 103.948369 
L 292.96592 103.965674 
L 294.083218 103.983114 
L 295.200515 104.000916 
L 296.317812 104.019024 
L 297.435109 104.037271 
L 298.552406 104.055865 
L 299.669703 104.07481 
L 300.787 104.093902 
L 301.904297 104.113323 
L 303.021594 104.133145 
L 304.138891 104.153121 
L 305.256189 104.173405 
L 306.373486 104.194144 
L 307.490783 104.215043 
L 308.60808 104.236228 
L 309.725377 104.257925 
L 310.842674 104.27979 
L 311.959971 104.301916 
L 313.077268 104.324615 
L 314.194565 104.34749 
L 315.311862 104.370598 
L 316.42916 104.394345 
L 317.546457 104.418276 
L 318.663754 104.442408 
L 319.781051 104.467251 
L 320.898348 104.492286 
L 322.015645 104.517516 
L 323.132942 104.543475 
L 324.250239 104.569665 
L 325.367536 104.596059 
L 326.484833 104.623168 
L 327.602131 104.650565 
L 328.719428 104.678175 
L 329.836725 104.706484 
L 330.954022 104.735142 
L 332.071319 104.764024 
L 333.188616 104.793586 
L 334.305913 104.823562 
L 335.42321 104.853773 
L 336.540507 104.884641 
L 337.657805 104.915995 
L 338.775102 104.947595 
L 339.892399 104.979828 
L 341.009696 105.012622 
L 342.126993 105.045673 
L 343.24429 105.079329 
L 344.361587 105.113628 
L 345.478884 105.148197 
L 346.596181 105.183337 
L 347.713478 105.219208 
L 348.830776 105.255362 
L 349.948073 105.292052 
L 351.06537 105.329566 
L 352.182667 105.367376 
L 353.299964 105.405682 
L 354.417261 105.444912 
L 355.534558 105.484453 
L 356.651855 105.524445 
L 357.769152 105.565468 
L 358.886449 105.606816 
L 360.003747 105.648567 
L 361.121044 105.691462 
L 362.238341 105.734699 
L 363.355638 105.778284 
L 364.472935 105.823136 
L 365.590232 105.868344 
L 366.707529 105.913913 
L 367.824826 105.960737 
L 368.942123 106.008005 
L 370.05942 106.055651 
L 371.176718 106.104526 
L 372.294015 106.153945 
L 373.411312 106.203759 
L 374.528609 106.254774 
L 375.645906 106.306438 
L 376.763203 106.358517 
L 377.8805 106.411762 
L 378.997797 106.46577 
L 380.115094 106.520213 
L 381.232392 106.575783 
L 382.349689 106.632238 
L 383.466986 106.689149 
L 384.584283 106.747143 
L 385.70158 106.806151 
L 386.818877 106.865638 
L 387.936174 106.926159 
L 389.053471 106.987832 
L 390.170768 107.050007 
L 391.288065 107.113161 
L 392.405363 107.177615 
L 393.52266 107.242595 
L 394.639957 107.308493 
L 395.757254 107.375848 
L 396.874551 107.443754 
L 397.991848 107.512513 
L 399.109145 107.582893 
L 400.226442 107.653852 
L 401.343739 107.72559 
L 402.461036 107.799126 
L 403.578334 107.873268 
L 404.695631 107.948111 
L 405.812928 108.024937 
L 406.930225 108.102398 
L 408.047522 108.180501 
L 409.164819 108.260732 
L 410.282116 108.341655 
L 411.399413 108.423249 
L 412.51671 108.506933 
L 413.634007 108.591463 
L 414.751305 108.676698 
L 415.868602 108.763976 
L 416.985899 108.852265 
L 418.103196 108.941295 
L 419.220493 109.032315 
L 420.33779 109.124522 
L 421.455087 109.217505 
L 422.572384 109.31242 
L 423.689681 109.408708 
L 424.806979 109.50581 
L 425.924276 109.60478 
L 427.041573 109.705318 
L 428.15887 109.80671 
L 429.276167 109.909899 
L 430.393464 110.014862 
L 431.510761 110.120722 
L 432.628058 110.2283 
L 433.745355 110.337871 
L 434.862652 110.448381 
L 435.97995 110.560527 
L 437.097247 110.674892 
L 438.214544 110.790243 
L 439.331841 110.907139 
L 440.449138 111.026493 
L 441.566435 111.146881 
L 442.683732 111.268717 
L 443.801029 111.39326 
L 444.918326 111.518889 
L 446.035623 111.645862 
L 447.152921 111.7758 
L 448.270218 111.906878 
L 449.387515 112.039192 
L 450.504812 112.17474 
L 451.622109 112.311482 
L 452.739406 112.449432 
L 453.856703 112.590725 
L 454.974 112.733356 
L 456.091297 112.877254 
L 457.208594 113.024423 
L 458.325892 113.173172 
L 459.443189 113.32325 
L 460.560486 113.476523 
L 461.677783 113.631626 
L 462.79508 113.788124 
L 463.912377 113.947734 
L 465.029674 114.109434 
L 466.146971 114.272599 
L 467.264268 114.438786 
L 468.381566 114.607333 
L 469.498863 114.777418 
L 470.61616 114.950432 
L 471.733457 115.126083 
L 472.850754 115.303348 
L 473.968051 115.483445 
L 475.085348 115.666462 
L 476.202645 115.851174 
L 477.319942 116.038618 
L 478.437239 116.229273 
L 479.554537 116.421706 
L 480.671834 116.616769 
L 481.789131 116.815336 
L 482.906428 117.015772 
L 484.023725 117.218734 
L 485.141022 117.425497 
L 486.258319 117.634222 
L 487.375616 117.84537 
L 488.492913 118.060619 
L 489.61021 118.277926 
L 490.727508 118.497558 
L 491.844805 118.721586 
L 492.962102 118.947775 
L 494.079399 119.176195 
L 495.196696 119.409303 
L 496.313993 119.644679 
L 497.43129 119.882351 
L 498.548587 120.124694 
L 499.665884 120.369569 
L 500.783181 120.616854 
L 501.900479 120.868703 
L 503.017776 121.123393 
L 504.135073 121.380613 
L 505.25237 121.642291 
L 506.369667 121.907117 
L 507.486964 122.174599 
L 508.604261 122.446436 
L 509.721558 122.721724 
L 510.838855 122.999799 
L 511.956152 123.282134 
L 513.07345 123.568213 
L 514.190747 123.857219 
L 515.308044 124.150396 
L 516.425341 124.4476 
L 517.542638 124.747875 
L 518.659935 125.052246 
L 519.777232 125.360912 
L 520.894529 125.6728 
L 522.011826 125.988725 
L 523.129124 126.30919 
L 524.246421 126.633036 
L 525.363718 126.960881 
L 526.481015 127.293486 
L 527.598312 127.629638 
L 528.715609 127.969774 
L 529.832906 128.31486 
L 530.950203 128.663667 
L 532.0675 129.016474 
L 533.184797 129.374382 
L 534.302095 129.736192 
L 535.419392 130.102055 
L 536.536689 130.473126 
L 537.653986 130.848289 
L 538.771283 131.227602 
L 539.88858 131.612171 
L 541.005877 132.001034 
L 542.123174 132.394249 
L 543.240471 132.792597 
L 544.357768 133.195505 
L 545.475066 133.602976 
L 546.592363 134.015484 
L 547.70966 134.432779 
L 548.826957 134.854857 
L 549.944254 135.281908 
L 551.061551 135.713929 
L 552.178848 136.150961 
L 553.296145 136.592941 
L 554.413442 137.040021 
L 555.530739 137.49235 
L 556.648037 137.949646 
L 557.765334 138.412111 
L 558.882631 138.880073 
L 559.999928 139.353075 
L 561.117225 139.831246 
L 562.234522 140.31517 
L 563.351819 140.804268 
L 564.469116 141.298455 
L 565.586413 141.798662 
L 566.703711 142.304247 
L 567.821008 142.81475 
L 568.938305 143.331551 
L 570.055602 143.854014 
L 571.172899 144.381124 
L 572.290196 144.91482 
L 573.407493 145.454549 
L 574.52479 145.998545 
L 575.642087 146.549424 
L 576.759384 147.106807 
L 577.876682 147.667953 
L 578.993979 148.23629 
L 580.111276 148.811713 
L 581.228573 149.39026 
L 582.34587 149.976316 
L 583.463167 150.57002 
L 584.580464 151.166342 
L 585.697761 151.770363 
L 586.815058 152.382367 
L 587.932355 152.997041 
L 589.049653 153.619254 
L 590.16695 154.249799 
L 591.284247 154.883158 
L 592.401544 155.523774 
L 593.518841 156.17308 
L 594.636138 156.825451 
L 595.753435 157.484662 
L 596.870732 158.152931 
L 597.988029 158.824633 
L 599.105326 159.502611 
L 600.222624 160.190024 
L 601.339921 160.881369 
L 602.457218 161.578264 
L 603.574515 162.284982 
L 604.691812 162.996271 
L 605.809109 163.712211 
L 606.926406 164.438372 
L 608.043703 165.169898 
L 609.161 165.904989 
L 610.278298 166.650708 
L 611.395595 167.402751 
L 612.512892 168.157076 
L 613.630189 168.922444 
L 614.747486 169.695275 
L 615.864783 170.468892 
L 616.98208 171.253976 
L 618.099377 172.047851 
L 619.216674 172.840794 
L 620.333971 173.645635 
L 621.451269 174.460799 
L 622.568566 175.273076 
L 623.685863 176.09769 
L 624.80316 176.934373 
L 625.920457 177.765968 
L 627.037754 178.610346 
L 628.155051 179.467804 
L 629.272348 180.319635 
L 630.389645 181.18374 
L 631.506942 182.061393 
L 632.62424 182.934172 
L 633.741537 183.817943 
L 634.858834 184.715735 
L 635.976131 185.609611 
L 637.093428 186.512959 
L 638.210725 187.430807 
L 639.328022 188.345912 
L 640.445319 189.268724 
L 641.562616 190.206519 
L 642.679913 191.14297 
L 643.797211 192.085107 
L 644.914508 193.042713 
L 646.031805 194.000613 
L 647.149102 194.96191 
L 648.266399 195.939166 
L 649.383696 196.9186 
L 650.500993 197.898869 
L 651.61829 198.895588 
L 652.735587 199.896627 
L 653.852885 200.895655 
L 654.970182 201.911627 
L 656.087479 202.934325 
L 657.204776 203.951877 
L 658.322073 204.986867 
L 659.43937 206.031261 
L 660.556667 207.067081 
L 661.673964 208.120833 
L 662.791261 209.186943 
L 663.908558 210.240755 
L 665.025856 211.312989 
L 666.143153 212.400821 
L 667.26045 213.472328 
L 668.377747 214.562747 
L 669.495044 215.672289 
L 670.612341 216.761176 
L 671.729638 217.869463 
L 672.846935 218.997698 
L 673.964232 220.106625 
L 675.081529 221.232444 
L 676.198827 222.378716 
L 677.316124 223.507949 
L 678.433421 224.650951 
L 679.550718 225.814906 
L 680.668015 226.964382 
L 681.785312 228.124202 
L 682.902609 229.305469 
L 684.019906 230.475114 
L 685.137203 231.651375 
L 686.2545 232.84957 
L 687.371798 234.039298 
L 688.489095 235.231611 
L 689.606392 236.44634 
L 690.723689 237.656054 
L 691.840986 238.864021 
L 692.958283 240.09488 
L 694.07558 241.324471 
L 695.192877 242.547689 
L 696.310174 243.794264 
L 697.427472 245.043617 
L 698.544769 246.281673 
L 699.662066 247.543546 
L 700.779363 248.812534 
L 701.89666 250.065013 
L 703.013957 251.34176 
L 704.131254 252.63025 
L 705.248551 253.896735 
L 706.365848 255.187929 
L 707.483145 256.49578 
L 708.600443 257.775853 
L 709.71774 259.081065 
L 710.835037 260.40813 
L 711.952334 261.701374 
L 713.069631 263.020178 
L 714.186928 264.365371 
L 715.304225 265.672302 
L 716.421522 267.004273 
L 717.538819 268.363064 
L 718.656116 269.687645 
L 719.773414 271.032362 
L 720.890711 272.404318 
L 722.008008 273.746415 
L 723.125305 275.103461 
L 724.242602 276.488157 
L 725.359899 277.847633 
L 726.477196 279.216598 
L 727.594493 280.613614 
L 728.71179 281.990333 
L 729.829087 283.370818 
L 730.946385 284.77974 
L 732.063682 286.173568 
L 733.180979 287.56518 
L 734.298276 288.985607 
L 735.415573 290.396409 
L 736.53287 291.798767 
L 737.650167 293.230307 
L 738.767464 294.657951 
L 739.884761 296.070686 
L 741.002058 297.51296 
L 742.119356 298.957318 
L 743.236653 300.380073 
L 744.35395 301.832713 
L 745.471247 303.293661 
L 746.588544 304.726093 
L 747.705841 306.188745 
L 748.823138 307.666164 
L 749.940435 309.107944 
L 751.057732 310.580272 
L 752.17503 312.074048 
L 753.292327 313.524863 
L 754.409624 315.006542 
L 755.526921 316.516568 
L 756.644218 317.97612 
L 757.761515 319.466845 
L 758.878812 320.989853 
L 759.996109 322.46103 
L 761.113406 323.960511 
L 762.230703 325.492591 
L 763.348001 326.978947 
L 764.465298 328.486911 
L 765.582595 330.027782 
L 766.699892 331.52927 
L 767.817189 333.045463 
L 768.934486 334.594863 
L 770.051783 336.111443 
L 771.16908 337.635629 
L 772.286377 339.193314 
L 773.403674 340.724956 
L 774.520972 342.256918 
L 775.638269 343.822664 
L 776.755566 345.369349 
L 777.872863 346.908888 
L 778.99016 348.482489 
L 780.107457 350.04421 
L 781.224754 351.591144 
L 782.342051 353.172415 
L 783.459348 354.749175 
L 784.576645 356.303344 
L 785.693943 357.892117 
L 786.81124 359.483933 
L 787.928537 361.045194 
L 789.045834 362.641323 
L 790.163131 364.248223 
L 791.280428 365.816452 
L 792.397725 367.41981 
L 793.515022 369.041836 
L 794.632319 370.616928 
L 795.749617 372.227408 
L 796.866914 373.864616 
L 797.984211 375.446485 
L 799.101508 377.063997 
L 800.218805 378.716458 
L 801.336102 380.305036 
L 802.453399 381.929511 
L 803.570696 383.591254 
L 804.687993 385.192549 
L 805.80529 386.823936 
L 806.922588 388.492858 
L 808.039885 390.109041 
L 809.157182 391.74731 
L 810.274479 393.42338 
L 811.391776 395.054586 
L 812.509073 396.699722 
L 813.62637 398.382927 
L 814.743667 400.029308 
L 815.860964 401.681317 
L 816.978261 403.371663 
L 818.095559 405.033383 
L 819.212856 406.692288 
L 820.330153 408.389801 
L 821.44745 410.067042 
L 822.564747 411.732884 
L 823.682044 413.437606 
L 824.799341 415.130567 
L 825.916638 416.803404 
L 827.033935 418.515398 
L 828.151232 420.224292 
L 829.26853 421.9042 
L 830.385827 423.623544 
L 831.503124 425.348603 
L 832.620421 427.035675 
L 833.737718 428.762468 
L 834.855015 430.503941 
L 835.972312 432.198285 
L 837.089609 433.93264 
L 838.206906 435.690796 
L 839.324204 437.392538 
L 840.441501 439.134587 
L 841.558798 440.909711 
L 842.676095 442.618993 
L 843.793392 444.368884 
L 844.910689 446.161033 
L 846.027986 447.87826 
L 847.145283 449.636158 
L 848.26258 451.436644 
L 849.379877 453.171004 
L 850.497175 454.937091 
L 851.614472 456.746103 
L 852.731769 458.497941 
L 853.849066 460.272413 
L 854.966363 462.090158 
L 856.08366 463.859836 
L 857.200957 465.642907 
L 858.318254 467.469609 
L 859.435551 469.257512 
L 860.552848 471.049411 
L 861.670146 472.885309 
L 862.787443 474.691842 
L 863.90474 476.492813 
L 865.022037 478.338164 
L 866.139334 480.163752 
L 867.256631 481.974056 
L 868.373928 483.829134 
L 869.491225 485.674224 
L 870.608522 487.494137 
L 871.725819 489.35923 
L 872.843117 491.224293 
L 873.960414 493.054107 
L 875.077711 494.92952 
L 876.195008 496.815053 
L 877.312305 498.655073 
L 878.429602 500.541129 
L 879.546899 502.447649 
L 880.664196 504.298198 
L 881.781493 506.195235 
L 882.898791 508.123289 
L 884.016088 509.984705 
L 885.133385 511.893077 
L 886.250682 513.843236 
L 887.367979 515.715873 
L 888.485276 517.635952 
L 889.602573 519.605556 
L 890.71987 521.493044 
L 891.837167 523.425218 
L 892.954464 525.407455 
L 894.071762 527.31762 
L 895.189059 529.262294 
L 896.306356 531.257591 
L 897.423653 533.191068 
L 898.54095 535.148666 
L 899.658247 537.157466 
L 900.775544 539.114922 
L 901.892841 541.085883 
L 903.010138 543.108652 
L 904.127435 545.090782 
L 905.244733 547.075565 
L 906.36203 549.112786 
L 907.479327 551.12032 
L 908.596624 553.119404 
L 909.713921 555.171579 
L 910.831218 557.205282 
L 911.948515 559.219162 
L 913.065812 561.286816 
L 914.183109 563.34749 
L 915.300406 565.376683 
L 916.417704 567.46036 
L 917.535001 569.548844 
L 918.652298 571.593888 
L 919.769595 573.694155 
L 920.886892 575.811331 
L 922.004189 577.872784 
L 923.121486 579.990231 
L 924.238783 582.137022 
L 925.35608 584.215465 
L 926.473378 586.350707 
L 927.590675 588.528081 
L 928.707972 590.624119 
L 929.825269 592.777793 
L 930.942566 594.98677 
L 932.059863 597.10103 
L 933.17716 599.273803 
L 934.294457 601.507941 
L 935.411754 603.648587 
L 936.529051 605.84115 
L 937.646349 608.09606 
L 938.763646 610.269286 
L 939.880943 612.48236 
L 940.99824 614.758806 
L 942.115537 616.965738 
L 943.232834 619.200075 
L 944.350131 621.498855 
L 945.467428 623.740678 
L 946.584725 625.997061 
L 947.702022 628.319008 
L 948.81932 630.596967 
L 949.936617 632.876214 
L 951.053914 635.222197 
L 952.171211 637.514019 
L 953.288508 639.734699 
L 954.405805 642.023341 
L 955.523102 644.2953 
L 956.640399 646.54059 
L 957.757696 648.855126 
L 958.874993 651.167382 
L 959.992291 653.438215 
L 961.109588 655.779639 
L 962.226885 658.133738 
L 963.344182 660.431089 
L 964.461479 662.800442 
L 965.578776 665.198018 
L 966.696073 667.522909 
L 967.81337 669.921284 
L 968.930667 672.364065 
L 970.047964 674.717568 
L 971.165262 677.146109 
L 972.282559 679.635929 
L 973.399856 682.019169 
L 974.517153 684.479079 
L 975.63445 687.017882 
L 976.751747 689.432041 
L 977.869044 691.924585 
L 978.986341 694.499953 
L 980.103638 696.960755 
L 981.220936 699.487266 
L 982.338233 702.098561 
L 983.45553 704.61015 
L 984.572827 707.172031 
L 985.690124 709.820762 
L 986.807421 712.385345 
L 987.924718 714.984077 
L 989.042015 717.67184 
L 990.159312 720.29177 
L 991.276609 722.928919 
L 992.393907 725.657399 
L 993.511204 728.335192 
L 994.628501 731.012413 
L 995.745798 733.783397 
L 996.863095 736.521739 
L 997.980392 739.240786 
L 999.097689 742.056169 
L 1000.214986 744.857939 
L 1001.332283 747.620672 
L 1002.44958 750.482468 
L 1003.566878 753.350752 
L 1004.684175 756.159149 
L 1005.801472 759.069498 
L 1006.918769 762.007615 
L 1008.036066 764.863778 
L 1009.153363 767.824962 
L 1010.27066 770.836481 
L 1011.387957 773.742652 
L 1012.505254 776.757106 
L 1013.622551 779.845878 
L 1014.739849 782.804449 
L 1015.857146 785.874777 
L 1016.974443 789.044962 
L 1018.09174 792.058492 
L 1019.209037 795.187479 
L 1020.326334 798.439903 
L 1021.443631 801.51481 
L 1022.560928 804.705449 
L 1023.678225 808.023895 
L 1024.795523 811.184223 
L 1025.91282 814.439727 
L 1027.030117 817.827722 
L 1028.147414 821.078421 
L 1029.264711 824.402251 
L 1030.382008 827.8636 
L 1031.499305 831.210064 
L 1032.616602 834.605957 
L 1033.733899 838.144774 
L 1034.851196 841.592898 
L 1035.968494 845.064893 
L 1037.085791 848.685638 
L 1038.203088 852.241877 
L 1039.320385 855.794354 
L 1040.437682 859.501871 
L 1041.554979 863.173318 
L 1042.672276 866.811035 
L 1043.789573 870.6106 
L 1044.90687 874.405072 
L 1046.024167 878.13321 
L 1047.141465 882.030583 
L 1048.258762 885.956719 
L 1049.376059 889.780938 
L 1050.493356 893.782427 
L 1051.610653 897.84981 
L 1052.72795 901.776305 
L 1053.845247 905.888835 
L 1054.962544 910.108134 
L 1056.079841 914.143708 
L 1057.197138 918.374908 
L 1058.314436 922.758045 
L 1059.431733 926.910193 
L 1060.54903 931.268492 
L 1061.666327 935.828848 
L 1062.783624 940.10585 
L 1063.900921 944.600594 
L 1065.018218 949.33408 
L 1066.135515 953.764292 
L 1067.252812 958.405883 
L 1068.37011 963.300949 
L 1069.487407 967.923227 
L 1070.604704 972.723286 
L 1071.722001 977.793237 
L 1072.839298 982.62515 
L 1073.956595 987.596719 
L 1075.073892 992.856553 
L 1076.191189 997.918195 
L 1077.308486 1003.075971 
L 1078.425783 1008.542681 
L 1079.543081 1013.857173 
L 1080.660378 1019.217806 
L 1081.777675 1024.910746 
L 1082.894972 1030.504871 
L 1084.012269 1036.087321 
L 1085.129566 1042.028662 
L 1086.246863 1047.933679 
L 1087.36416 1053.759659 
L 1088.481457 1059.974964 
L 1089.598754 1066.22765 
L 1090.716052 1072.322188 
L 1091.833349 1078.841134 
L 1092.950646 1085.485151 
L 1094.067943 1091.877292 
L 1095.18524 1098.734599 
L 1096.302537 1105.822312 
L 1097.419834 1112.546021 
L 1098.537131 1119.782656 
L 1099.654428 1127.377579 
L 1100.771725 1134.47291 
L 1101.889023 1142.13767 
L 1103.00632 1150.31783 
L 1104.123617 1157.832462 
L 1105.240914 1165.98409 
L 1106.358211 1174.846758 
L 1107.475508 1182.838037 
L 1108.592805 1191.548101 
L 1109.710102 1201.131771 
L 1110.827399 1209.857885 
L 1111.944697 1219.297051 
L 1113.061994 1229.71935 
L 1114.179291 1239.265524 
L 1115.296588 1249.462364 
L 1116.413885 1260.80873 
L 1117.531182 1271.347077 
L 1118.648479 1282.443147 
L 1119.765776 1294.905087 
L 1120.883073 1306.667814 
L 1122.00037 1318.847682 
L 1123.117668 1332.682192 
L 1124.234965 1345.992994 
L 1125.352262 1359.503275 
L 1126.469559 1375.06609 
L 1127.586856 1390.394933 
L 1128.704153 1405.574813 
L 1129.82145 1423.377412 
L 1130.938747 1441.442971 
L 1132.056044 1458.775216 
L 1133.173341 1479.588624 
L 1134.290639 1501.567835 
L 1135.407936 1521.767495 
L 1136.525233 1546.825567 
L 1137.64253 1574.836854 
L 1138.759827 1599.008953 
L 1139.877124 1630.44032 
L 1140.994421 1668.863897 
L 1142.111718 1698.758624 
L 1143.229015 1740.560407 
L 1144.346312 1800.71926 
L 1145.46361 1838.73076 
L 1146.580907 1898.379858 
L 1147.698204 2025.011021 
L 1148.815501 2068.549955 
L 1149.932798 2143.268061 
L 1151.050095 3768.528183 
L 1151.050095 3768.528183 
L 1151.050095 3768.528183 
L 1149.932798 2143.268061 
L 1148.815501 2068.549955 
L 1147.698204 2025.011021 
L 1146.580907 1898.379858 
L 1145.46361 1838.73076 
L 1144.346312 1800.71926 
L 1143.229015 1740.560407 
L 1142.111718 1698.758624 
L 1140.994421 1668.863897 
L 1139.877124 1630.44032 
L 1138.759827 1599.008953 
L 1137.64253 1574.836854 
L 1136.525233 1546.825567 
L 1135.407936 1521.767495 
L 1134.290639 1501.567835 
L 1133.173341 1479.588624 
L 1132.056044 1458.775216 
L 1130.938747 1441.442971 
L 1129.82145 1423.377412 
L 1128.704153 1405.574813 
L 1127.586856 1390.394933 
L 1126.469559 1375.06609 
L 1125.352262 1359.503275 
L 1124.234965 1345.992994 
L 1123.117668 1332.682192 
L 1122.00037 1318.847682 
L 1120.883073 1306.667814 
L 1119.765776 1294.905087 
L 1118.648479 1282.443147 
L 1117.531182 1271.347077 
L 1116.413885 1260.80873 
L 1115.296588 1249.462364 
L 1114.179291 1239.265524 
L 1113.061994 1229.71935 
L 1111.944697 1219.297051 
L 1110.827399 1209.857885 
L 1109.710102 1201.131771 
L 1108.592805 1191.42613 
L 1107.475508 1182.551495 
L 1106.358211 1174.395645 
L 1105.240914 1165.368406 
L 1104.123617 1157.052207 
L 1103.00632 1149.373005 
L 1101.889023 1141.028274 
L 1100.771725 1133.198943 
L 1099.654428 1125.939041 
L 1098.537131 1118.179547 
L 1097.419834 1110.778341 
L 1096.302537 1103.890062 
L 1095.18524 1096.637777 
L 1094.067943 1089.6159 
L 1092.950646 1083.059188 
L 1091.833349 1076.2506 
L 1090.716052 1069.567083 
L 1089.598754 1063.307974 
L 1088.481457 1056.890718 
L 1087.36416 1050.510842 
L 1086.246863 1044.520291 
L 1085.129566 1038.450703 
L 1084.012269 1032.344791 
L 1082.894972 1026.59777 
L 1081.777675 1020.839074 
L 1080.660378 1014.981563 
L 1079.543081 1009.456359 
L 1078.425783 1003.977297 
L 1077.308486 998.346016 
L 1076.191189 993.023669 
L 1075.073892 987.797456 
L 1073.956595 982.37305 
L 1072.839298 977.236911 
L 1071.722001 972.240427 
L 1070.604704 967.005905 
L 1069.487407 962.041275 
L 1068.37011 957.254426 
L 1067.252812 952.194789 
L 1066.135515 947.388628 
L 1065.018218 942.793845 
L 1063.900921 937.895788 
L 1062.783624 933.236473 
L 1061.666327 928.7949 
L 1060.54903 924.069973 
L 1059.431733 919.547103 
L 1058.314436 915.230385 
L 1057.197138 910.682677 
L 1056.079841 906.286906 
L 1054.962544 902.086761 
L 1053.845247 897.702891 
L 1052.72795 893.42579 
L 1051.610653 889.334725 
L 1050.493356 885.10277 
L 1049.376059 880.93671 
L 1048.258762 876.947921 
L 1047.141465 872.857214 
L 1046.024167 868.79527 
L 1044.90687 864.902561 
L 1043.789573 860.943518 
L 1042.672276 856.979382 
L 1041.554979 853.177095 
L 1040.437682 849.341076 
L 1039.320385 845.468989 
L 1038.203088 841.751941 
L 1037.085791 838.031131 
L 1035.968494 834.245815 
L 1034.851196 830.609249 
L 1033.733899 826.996554 
L 1032.616602 823.293167 
L 1031.499305 819.732703 
L 1030.382008 816.221668 
L 1029.264711 812.595748 
L 1028.147414 809.107347 
L 1027.030117 805.692077 
L 1025.91282 802.139511 
L 1024.795523 798.719436 
L 1023.678225 795.394538 
L 1022.560928 791.91152 
L 1021.443631 788.556311 
L 1020.326334 785.316833 
L 1019.209037 781.899838 
L 1018.09174 778.60628 
L 1016.974443 775.428179 
L 1015.857146 772.093423 
L 1014.739849 768.858525 
L 1013.622551 765.735383 
L 1012.505254 762.48204 
L 1011.387957 759.303015 
L 1010.27066 756.232273 
L 1009.153363 753.056183 
L 1008.036066 749.930428 
L 1006.918769 746.909694 
L 1005.801472 743.807007 
L 1004.684175 740.732086 
L 1003.566878 737.759119 
L 1002.44958 734.726264 
L 1001.332283 731.699897 
L 1000.214986 728.772593 
L 999.097689 725.806253 
L 997.980392 722.826298 
L 996.863095 719.94268 
L 995.745798 717.039768 
L 994.628501 714.104212 
L 993.511204 711.262421 
L 992.393907 708.420057 
L 991.276609 705.527006 
L 990.159312 702.725287 
L 989.042015 699.940785 
L 987.924718 697.088452 
L 986.807421 694.325148 
L 985.690124 691.595995 
L 984.572827 688.782693 
L 983.45553 686.056241 
L 982.338233 683.380081 
L 981.220936 680.604216 
L 980.103638 677.913134 
L 978.986341 675.28776 
L 977.869044 672.547822 
L 976.751747 669.890706 
L 975.63445 667.311977 
L 974.517153 664.608603 
L 973.399856 661.984122 
L 972.282559 659.436311 
L 971.165262 656.781921 
L 970.047964 654.188809 
L 968.930667 651.670735 
L 967.81337 649.063382 
L 966.696073 646.500437 
L 965.578776 644.010975 
L 964.461479 641.448828 
L 963.344182 638.914904 
L 962.226885 636.452982 
L 961.109588 633.934312 
L 959.992291 631.428317 
L 958.874993 628.992914 
L 957.757696 626.516086 
L 956.640399 624.03698 
L 955.523102 621.627119 
L 954.405805 619.190589 
L 953.288508 616.737376 
L 952.171211 614.352125 
L 951.053914 612.013129 
L 949.936617 609.667147 
L 948.81932 607.387899 
L 947.702022 605.10994 
L 946.584725 602.787993 
L 945.467428 600.53161 
L 944.350131 598.289787 
L 943.232834 595.991008 
L 942.115537 593.756671 
L 940.99824 591.549738 
L 939.880943 589.273292 
L 938.763646 587.060218 
L 937.646349 584.886992 
L 936.529051 582.632082 
L 935.411754 580.43952 
L 934.294457 578.298874 
L 933.17716 576.064735 
L 932.059863 573.891963 
L 930.942566 571.777702 
L 929.825269 569.568726 
L 928.707972 567.415051 
L 927.590675 565.319014 
L 926.473378 563.141639 
L 925.35608 561.006397 
L 924.238783 558.927954 
L 923.121486 556.781164 
L 922.004189 554.663716 
L 920.886892 552.602263 
L 919.769595 550.485088 
L 918.652298 548.384821 
L 917.535001 546.339776 
L 916.417704 544.251292 
L 915.300406 542.167615 
L 914.183109 540.138422 
L 913.065812 538.077748 
L 911.948515 536.010095 
L 910.831218 533.996214 
L 909.713921 531.962511 
L 908.596624 529.910336 
L 907.479327 527.911252 
L 906.36203 525.903718 
L 905.244733 523.866498 
L 904.127435 521.881714 
L 903.010138 519.899584 
L 901.892841 517.876815 
L 900.775544 515.905854 
L 899.658247 513.948399 
L 898.54095 511.939598 
L 897.423653 509.982 
L 896.306356 508.048523 
L 895.189059 506.053226 
L 894.071762 504.108552 
L 892.954464 502.198387 
L 891.837167 500.21615 
L 890.71987 498.283976 
L 889.602573 496.396488 
L 888.485276 494.426884 
L 887.367979 492.506805 
L 886.250682 490.634168 
L 885.133385 488.684009 
L 884.016088 486.775637 
L 882.898791 484.914221 
L 881.781493 482.986167 
L 880.664196 481.089131 
L 879.546899 479.238581 
L 878.429602 477.332061 
L 877.312305 475.446005 
L 876.195008 473.605985 
L 875.077711 471.720453 
L 873.960414 469.845039 
L 872.843117 468.015226 
L 871.725819 466.150162 
L 870.608522 464.285069 
L 869.491225 462.465156 
L 868.373928 460.620066 
L 867.256631 458.764989 
L 866.139334 456.954684 
L 865.022037 455.129097 
L 863.90474 453.283745 
L 862.787443 451.482774 
L 861.670146 449.676241 
L 860.552848 447.840343 
L 859.435551 446.048444 
L 858.318254 444.260541 
L 857.200957 442.433839 
L 856.08366 440.650768 
L 854.966363 438.88109 
L 853.849066 437.063345 
L 852.731769 435.288873 
L 851.614472 433.537035 
L 850.497175 431.728023 
L 849.379877 429.961937 
L 848.26258 428.227577 
L 847.145283 426.427091 
L 846.027986 424.669193 
L 844.910689 422.951966 
L 843.793392 421.159816 
L 842.676095 419.409925 
L 841.558798 417.700643 
L 840.441501 415.925519 
L 839.324204 414.18347 
L 838.206906 412.481728 
L 837.089609 410.723572 
L 835.972312 408.989218 
L 834.855015 407.294873 
L 833.737718 405.5534 
L 832.620421 403.826607 
L 831.503124 402.139536 
L 830.385827 400.414477 
L 829.26853 398.695132 
L 828.151232 397.015224 
L 827.033935 395.30633 
L 825.916638 393.594337 
L 824.799341 391.921499 
L 823.682044 390.228538 
L 822.564747 388.523816 
L 821.44745 386.857974 
L 820.330153 385.180733 
L 819.212856 383.48322 
L 818.095559 381.824315 
L 816.978261 380.162595 
L 815.860964 378.472249 
L 814.743667 376.82024 
L 813.62637 375.173859 
L 812.509073 373.490654 
L 811.391776 371.845518 
L 810.274479 370.214312 
L 809.157182 368.538242 
L 808.039885 366.899974 
L 806.922588 365.283791 
L 805.80529 363.614868 
L 804.687993 361.983481 
L 803.570696 360.382186 
L 802.453399 358.720444 
L 801.336102 357.095969 
L 800.218805 355.50739 
L 799.101508 353.854929 
L 797.984211 352.237417 
L 796.866914 350.655548 
L 795.749617 349.01834 
L 794.632319 347.407861 
L 793.515022 345.832768 
L 792.397725 344.210743 
L 791.280428 342.607384 
L 790.163131 341.039155 
L 789.045834 339.432256 
L 787.928537 337.836126 
L 786.81124 336.274865 
L 785.693943 334.68305 
L 784.576645 333.094276 
L 783.459348 331.540107 
L 782.342051 329.963347 
L 781.224754 328.382077 
L 780.107457 326.835142 
L 778.99016 325.273421 
L 777.872863 323.69982 
L 776.755566 322.160282 
L 775.638269 320.613596 
L 774.520972 319.047851 
L 773.403674 317.515889 
L 772.286377 315.984247 
L 771.16908 314.426562 
L 770.051783 312.902375 
L 768.934486 311.385795 
L 767.817189 309.836396 
L 766.699892 308.320202 
L 765.582595 306.818714 
L 764.465298 305.277843 
L 763.348001 303.769879 
L 762.230703 302.283523 
L 761.113406 300.751443 
L 759.996109 299.251962 
L 758.878812 297.780786 
L 757.761515 296.257777 
L 756.644218 294.767052 
L 755.526921 293.3075 
L 754.409624 291.797474 
L 753.292327 290.315795 
L 752.17503 288.86498 
L 751.057732 287.371204 
L 749.940435 285.898877 
L 748.823138 284.457096 
L 747.705841 282.979678 
L 746.588544 281.517025 
L 745.471247 280.084593 
L 744.35395 278.623645 
L 743.236653 277.171005 
L 742.119356 275.74825 
L 741.002058 274.303892 
L 739.884761 272.861619 
L 738.767464 271.448883 
L 737.650167 270.02124 
L 736.53287 268.589699 
L 735.415573 267.187341 
L 734.298276 265.776539 
L 733.180979 264.356112 
L 732.063682 262.9645 
L 730.946385 261.570673 
L 729.829087 260.16175 
L 728.71179 258.781265 
L 727.594493 257.404546 
L 726.477196 256.007531 
L 725.359899 254.638565 
L 724.242602 253.279089 
L 723.125305 251.894393 
L 722.008008 250.537347 
L 720.890711 249.195251 
L 719.773414 247.823294 
L 718.656116 246.478578 
L 717.538819 245.153996 
L 716.421522 243.795205 
L 715.304225 242.463235 
L 714.186928 241.156303 
L 713.069631 239.81111 
L 711.952334 238.492306 
L 710.835037 237.199063 
L 709.71774 235.871998 
L 708.600443 234.566785 
L 707.483145 233.286712 
L 706.365848 231.978861 
L 705.248551 230.687667 
L 704.131254 229.421182 
L 703.013957 228.132692 
L 701.89666 226.855945 
L 700.779363 225.603466 
L 699.662066 224.334478 
L 698.544769 223.072605 
L 697.427472 221.834549 
L 696.310174 220.585197 
L 695.192877 219.338621 
L 694.07558 218.115404 
L 692.958283 216.885813 
L 691.840986 215.654953 
L 690.723689 214.446986 
L 689.606392 213.237273 
L 688.489095 212.022543 
L 687.371798 210.83023 
L 686.2545 209.640502 
L 685.137203 208.442307 
L 684.019906 207.266046 
L 682.902609 206.096401 
L 681.785312 204.915135 
L 680.668015 203.755315 
L 679.550718 202.605838 
L 678.433421 201.441884 
L 677.316124 200.298882 
L 676.198827 199.169648 
L 675.081529 198.023376 
L 673.964232 196.897557 
L 672.846935 195.78863 
L 671.729638 194.660395 
L 670.612341 193.552108 
L 669.495044 192.463221 
L 668.377747 191.353679 
L 667.26045 190.26326 
L 666.143153 189.191753 
L 665.025856 188.103921 
L 663.908558 187.031687 
L 662.791261 185.977875 
L 661.673964 184.911765 
L 660.556667 183.858014 
L 659.43937 182.822193 
L 658.322073 181.777799 
L 657.204776 180.74281 
L 656.087479 179.725257 
L 654.970182 178.702559 
L 653.852885 177.686588 
L 652.735587 176.68756 
L 651.61829 175.68652 
L 650.500993 174.689801 
L 649.383696 173.709533 
L 648.266399 172.730098 
L 647.149102 171.752842 
L 646.031805 170.791545 
L 644.914508 169.833645 
L 643.797211 168.876039 
L 642.679913 167.933903 
L 641.562616 166.997451 
L 640.445319 166.059656 
L 639.328022 165.136844 
L 638.210725 164.22174 
L 637.093428 163.303891 
L 635.976131 162.400543 
L 634.858834 161.506668 
L 633.741537 160.608875 
L 632.62424 159.725105 
L 631.506942 158.852326 
L 630.389645 157.974672 
L 629.272348 157.110567 
L 628.155051 156.258737 
L 627.037754 155.401278 
L 625.920457 154.556901 
L 624.80316 153.725306 
L 623.685863 152.888622 
L 622.568566 152.064008 
L 621.451269 151.251731 
L 620.333971 150.436567 
L 619.216674 149.631726 
L 618.099377 148.838783 
L 616.98208 148.044908 
L 615.864783 147.259824 
L 614.747486 146.486207 
L 613.630189 145.713376 
L 612.512892 144.948009 
L 611.395595 144.193684 
L 610.278298 143.44164 
L 609.161 142.695921 
L 608.043703 141.96083 
L 606.926406 141.229304 
L 605.809109 140.503143 
L 604.691812 139.787203 
L 603.574515 139.075914 
L 602.457218 138.369196 
L 601.339921 137.672301 
L 600.222624 136.980956 
L 599.105326 136.293543 
L 597.988029 135.615566 
L 596.870732 134.943863 
L 595.753435 134.275594 
L 594.636138 133.616383 
L 593.518841 132.964012 
L 592.401544 132.314706 
L 591.284247 131.67409 
L 590.16695 131.040731 
L 589.049653 130.410186 
L 587.932355 129.787973 
L 586.815058 129.1733 
L 585.697761 128.561295 
L 584.580464 127.957274 
L 583.463167 127.360952 
L 582.34587 126.767248 
L 581.228573 126.181192 
L 580.111276 125.602645 
L 578.993979 125.027223 
L 577.876682 124.458886 
L 576.759384 123.897739 
L 575.642087 123.340356 
L 574.52479 122.789477 
L 573.407493 122.245482 
L 572.290196 121.705752 
L 571.172899 121.172057 
L 570.055602 120.644946 
L 568.938305 120.122484 
L 567.821008 119.605682 
L 566.703711 119.095179 
L 565.586413 118.589594 
L 564.469116 118.089387 
L 563.351819 117.595201 
L 562.234522 117.106102 
L 561.117225 116.622178 
L 559.999928 116.144008 
L 558.882631 115.671006 
L 557.765334 115.203044 
L 556.648037 114.740578 
L 555.530739 114.283282 
L 554.413442 113.830953 
L 553.296145 113.383873 
L 552.178848 112.941894 
L 551.061551 112.504862 
L 549.944254 112.07284 
L 548.826957 111.645789 
L 547.70966 111.223712 
L 546.592363 110.806416 
L 545.475066 110.393908 
L 544.357768 109.986437 
L 543.240471 109.583529 
L 542.123174 109.185181 
L 541.005877 108.791966 
L 539.88858 108.403104 
L 538.771283 108.018534 
L 537.653986 107.639221 
L 536.536689 107.264059 
L 535.419392 106.892987 
L 534.302095 106.527124 
L 533.184797 106.165314 
L 532.0675 105.807406 
L 530.950203 105.454599 
L 529.832906 105.105792 
L 528.715609 104.760706 
L 527.598312 104.42057 
L 526.481015 104.084418 
L 525.363718 103.751813 
L 524.246421 103.423969 
L 523.129124 103.100122 
L 522.011826 102.779657 
L 520.894529 102.463732 
L 519.777232 102.151844 
L 518.659935 101.843179 
L 517.542638 101.538808 
L 516.425341 101.238532 
L 515.308044 100.941328 
L 514.190747 100.648151 
L 513.07345 100.359146 
L 511.956152 100.073066 
L 510.838855 99.790732 
L 509.721558 99.512656 
L 508.604261 99.237368 
L 507.486964 98.965531 
L 506.369667 98.698049 
L 505.25237 98.433223 
L 504.135073 98.171545 
L 503.017776 97.914325 
L 501.900479 97.659635 
L 500.783181 97.407786 
L 499.665884 97.160502 
L 498.548587 96.915627 
L 497.43129 96.673283 
L 496.313993 96.435612 
L 495.196696 96.200235 
L 494.079399 95.967127 
L 492.962102 95.738707 
L 491.844805 95.512518 
L 490.727508 95.28849 
L 489.61021 95.068858 
L 488.492913 94.851551 
L 487.375616 94.636303 
L 486.258319 94.425154 
L 485.141022 94.216429 
L 484.023725 94.009666 
L 482.906428 93.806704 
L 481.789131 93.606269 
L 480.671834 93.407701 
L 479.554537 93.212638 
L 478.437239 93.020205 
L 477.319942 92.829551 
L 476.202645 92.642107 
L 475.085348 92.457394 
L 473.968051 92.274377 
L 472.850754 92.09428 
L 471.733457 91.917015 
L 470.61616 91.741364 
L 469.498863 91.56835 
L 468.381566 91.398265 
L 467.264268 91.229719 
L 466.146971 91.063531 
L 465.029674 90.900366 
L 463.912377 90.738666 
L 462.79508 90.579056 
L 461.677783 90.422558 
L 460.560486 90.267455 
L 459.443189 90.114182 
L 458.325892 89.964104 
L 457.208594 89.815355 
L 456.091297 89.668186 
L 454.974 89.524288 
L 453.856703 89.381657 
L 452.739406 89.240365 
L 451.622109 89.102415 
L 450.504812 88.965672 
L 449.387515 88.830124 
L 448.270218 88.69781 
L 447.152921 88.566733 
L 446.035623 88.436794 
L 444.918326 88.309821 
L 443.801029 88.184193 
L 442.683732 88.05965 
L 441.566435 87.937814 
L 440.449138 87.817425 
L 439.331841 87.698071 
L 438.214544 87.581176 
L 437.097247 87.465824 
L 435.97995 87.351459 
L 434.862652 87.239314 
L 433.745355 87.128803 
L 432.628058 87.019232 
L 431.510761 86.911654 
L 430.393464 86.805795 
L 429.276167 86.700831 
L 428.15887 86.597642 
L 427.041573 86.49625 
L 425.924276 86.395712 
L 424.806979 86.296742 
L 423.689681 86.199641 
L 422.572384 86.103353 
L 421.455087 86.008437 
L 420.33779 85.915454 
L 419.220493 85.823247 
L 418.103196 85.732227 
L 416.985899 85.643198 
L 415.868602 85.554908 
L 414.751305 85.46763 
L 413.634007 85.382395 
L 412.51671 85.297865 
L 411.399413 85.214181 
L 410.282116 85.132587 
L 409.164819 85.051665 
L 408.047522 84.971433 
L 406.930225 84.893331 
L 405.812928 84.815869 
L 404.695631 84.739043 
L 403.578334 84.6642 
L 402.461036 84.590058 
L 401.343739 84.516522 
L 400.226442 84.444784 
L 399.109145 84.373825 
L 397.991848 84.303445 
L 396.874551 84.234687 
L 395.757254 84.166781 
L 394.639957 84.099426 
L 393.52266 84.033527 
L 392.405363 83.968548 
L 391.288065 83.904093 
L 390.170768 83.84094 
L 389.053471 83.778765 
L 387.936174 83.717091 
L 386.818877 83.656571 
L 385.70158 83.597084 
L 384.584283 83.538075 
L 383.466986 83.480081 
L 382.349689 83.42317 
L 381.232392 83.366715 
L 380.115094 83.311145 
L 378.997797 83.256702 
L 377.8805 83.202694 
L 376.763203 83.149449 
L 375.645906 83.09737 
L 374.528609 83.045706 
L 373.411312 82.994692 
L 372.294015 82.944877 
L 371.176718 82.895458 
L 370.05942 82.846583 
L 368.942123 82.798937 
L 367.824826 82.751669 
L 366.707529 82.704845 
L 365.590232 82.659276 
L 364.472935 82.614068 
L 363.355638 82.569217 
L 362.238341 82.525631 
L 361.121044 82.482395 
L 360.003747 82.439499 
L 358.886449 82.397748 
L 357.769152 82.3564 
L 356.651855 82.315377 
L 355.534558 82.275385 
L 354.417261 82.235844 
L 353.299964 82.196614 
L 352.182667 82.158308 
L 351.06537 82.120498 
L 349.948073 82.082984 
L 348.830776 82.046294 
L 347.713478 82.01014 
L 346.596181 81.974269 
L 345.478884 81.939129 
L 344.361587 81.90456 
L 343.24429 81.870261 
L 342.126993 81.836606 
L 341.009696 81.803554 
L 339.892399 81.77076 
L 338.775102 81.738527 
L 337.657805 81.706928 
L 336.540507 81.675573 
L 335.42321 81.644705 
L 334.305913 81.614494 
L 333.188616 81.584518 
L 332.071319 81.554956 
L 330.954022 81.526074 
L 329.836725 81.497416 
L 328.719428 81.469107 
L 327.602131 81.441497 
L 326.484833 81.4141 
L 325.367536 81.386991 
L 324.250239 81.360598 
L 323.132942 81.334408 
L 322.015645 81.308449 
L 320.898348 81.283218 
L 319.781051 81.258183 
L 318.663754 81.233341 
L 317.546457 81.209208 
L 316.42916 81.185277 
L 315.311862 81.16153 
L 314.194565 81.138422 
L 313.077268 81.115547 
L 311.959971 81.092848 
L 310.842674 81.070722 
L 309.725377 81.048857 
L 308.60808 81.02716 
L 307.490783 81.005975 
L 306.373486 80.985076 
L 305.256189 80.964337 
L 304.138891 80.944053 
L 303.021594 80.924078 
L 301.904297 80.904256 
L 300.787 80.884835 
L 299.669703 80.865743 
L 298.552406 80.846797 
L 297.435109 80.828203 
L 296.317812 80.809956 
L 295.200515 80.791848 
L 294.083218 80.774046 
L 292.96592 80.756607 
L 291.848623 80.739301 
L 290.731326 80.722257 
L 289.614029 80.70559 
L 288.496732 80.68905 
L 287.379435 80.672733 
L 286.262138 80.656804 
L 285.144841 80.640998 
L 284.027544 80.625376 
L 282.910246 80.610153 
L 281.792949 80.595047 
L 280.675652 80.580092 
L 279.558355 80.565544 
L 278.441058 80.551108 
L 277.323761 80.536791 
L 276.206464 80.522888 
L 275.089167 80.509092 
L 273.97187 80.495401 
L 272.854573 80.482101 
L 271.737275 80.468917 
L 270.619978 80.455833 
L 269.502681 80.443101 
L 268.385384 80.430502 
L 267.268087 80.417999 
L 266.15079 80.40581 
L 265.033493 80.39377 
L 263.916196 80.381822 
L 262.798899 80.370154 
L 261.681602 80.358649 
L 260.564304 80.347232 
L 259.447007 80.336062 
L 258.32971 80.325068 
L 257.212413 80.314158 
L 256.095116 80.303465 
L 254.977819 80.29296 
L 253.860522 80.282535 
L 252.743225 80.272299 
L 251.625928 80.262261 
L 250.508631 80.252299 
L 249.391333 80.2425 
L 248.274036 80.232909 
L 247.156739 80.223389 
L 246.039442 80.21401 
L 244.922145 80.204845 
L 243.804848 80.195749 
L 242.687551 80.186771 
L 241.570254 80.178014 
L 240.452957 80.169323 
L 239.33566 80.160729 
L 238.218362 80.152361 
L 237.101065 80.144056 
L 235.983768 80.13583 
L 234.866471 80.127835 
L 233.749174 80.1199 
L 232.631877 80.112026 
L 231.51458 80.104386 
L 230.397283 80.096805 
L 229.279986 80.08928 
L 228.162688 80.081968 
L 227.045391 80.074724 
L 225.928094 80.067535 
L 224.810797 80.060536 
L 223.6935 80.053614 
L 222.576203 80.046745 
L 221.458906 80.040045 
L 220.341609 80.033432 
L 219.224312 80.026868 
L 218.107015 80.020456 
L 216.989717 80.014137 
L 215.87242 80.007866 
L 214.755123 80.001728 
L 213.637826 79.99569 
L 212.520529 79.989699 
L 211.403232 79.983824 
L 210.285935 79.978055 
L 209.168638 79.97233 
L 208.051341 79.966707 
L 206.934044 79.961196 
L 205.816746 79.955726 
L 204.699449 79.950344 
L 203.582152 79.945078 
L 202.464855 79.939852 
L 201.347558 79.9347 
L 200.230261 79.929669 
L 199.112964 79.924676 
L 197.995667 79.919745 
L 196.87837 79.914938 
L 195.761073 79.910168 
L 194.643775 79.905448 
L 193.526478 79.900856 
L 192.409181 79.896298 
L 191.291884 79.891781 
L 190.174587 79.887393 
L 189.05729 79.883039 
L 187.939993 79.878717 
L 186.822696 79.874523 
L 185.705399 79.870363 
L 184.588101 79.866234 
L 183.470804 79.86222 
L 182.353507 79.858245 
L 181.23621 79.8543 
L 180.118913 79.850458 
L 179.001616 79.846661 
L 177.884319 79.842892 
L 176.767022 79.839214 
L 175.649725 79.835586 
L 174.532428 79.831985 
L 173.41513 79.828466 
L 172.297833 79.825 
L 171.180536 79.821559 
L 170.063239 79.818191 
L 168.945942 79.814879 
L 167.828645 79.811592 
L 166.711348 79.808368 
L 165.594051 79.805204 
L 164.476754 79.802064 
L 163.359457 79.798978 
L 162.242159 79.795956 
L 161.124862 79.792956 
L 160.007565 79.790002 
L 158.890268 79.787114 
L 157.772971 79.784248 
L 156.655674 79.781421 
L 155.538377 79.778662 
L 154.42108 79.775924 
L 153.303783 79.773219 
L 152.186486 79.770583 
L 151.069188 79.767967 
L 149.951891 79.765378 
L 148.834594 79.762859 
L 147.717297 79.76036 
L 146.6 79.757882 
z
" clip-path="url(#pf368dae28a)" style="fill: #ff4500; fill-opacity: 0.15; stroke: #ff4500; stroke-opacity: 0.15; stroke-width: 1.6"/>
   </g>
   <g id="line2d_101">
    <path d="M 146.6 91.362416 
L 219.224312 91.631402 
L 267.268087 92.022533 
L 303.021594 92.528612 
L 330.954022 93.130608 
L 354.417261 93.840378 
L 375.645906 94.701904 
L 393.52266 95.638061 
L 410.282116 96.737121 
L 424.806979 97.901276 
L 438.214544 99.18571 
L 450.504812 100.570206 
L 462.79508 102.18359 
L 473.968051 103.878911 
L 485.141022 105.820963 
L 495.196696 107.804769 
L 504.135073 109.776079 
L 513.07345 111.963679 
L 522.011826 114.384191 
L 530.950203 117.059133 
L 538.771283 119.623068 
L 546.592363 122.41095 
L 554.413442 125.435487 
L 562.234522 128.710636 
L 570.055602 132.24948 
L 576.759384 135.502273 
L 583.463167 138.965486 
L 590.16695 142.645265 
L 596.870732 146.548397 
L 603.574515 150.680448 
L 610.278298 155.046174 
L 618.099377 160.443317 
L 624.80316 165.32984 
L 631.506942 170.456859 
L 638.210725 175.826273 
L 644.914508 181.438179 
L 651.61829 187.291054 
L 659.43937 194.426727 
L 665.025856 199.708455 
L 675.081529 209.62791 
L 686.2545 221.245036 
L 694.07558 229.719938 
L 700.779363 237.208 
L 706.365848 243.583395 
L 719.773414 259.427828 
L 735.415573 278.791875 
L 743.236653 288.775539 
L 756.644218 306.371586 
L 767.817189 321.440929 
L 789.045834 351.036789 
L 809.157182 380.142776 
L 833.737718 417.157934 
L 853.849066 448.667879 
L 877.312305 487.050539 
L 890.71987 509.88851 
L 899.658247 525.552933 
L 906.36203 537.508252 
L 915.300406 553.772149 
L 927.590675 576.923547 
L 932.059863 585.496496 
L 939.880943 600.877826 
L 955.523102 632.961209 
L 959.992291 642.433266 
L 970.047964 664.453189 
L 977.869044 682.236204 
L 992.393907 717.038728 
L 997.980392 731.033542 
L 1008.036066 757.397103 
L 1015.857146 778.9841 
L 1028.147414 815.092884 
L 1032.616602 828.949562 
L 1042.672276 861.895209 
L 1050.493356 889.442599 
L 1057.197138 914.528792 
L 1066.135515 950.57646 
L 1070.604704 969.864596 
L 1078.425783 1006.259989 
L 1081.777675 1022.87491 
L 1085.129566 1040.239683 
L 1089.598754 1064.767812 
L 1091.833349 1077.545867 
L 1097.419834 1111.662181 
L 1101.889023 1141.582972 
L 1108.592805 1191.487115 
L 1110.827399 1209.857885 
L 1111.944697 1219.297051 
L 1114.179291 1239.265524 
L 1115.296588 1249.462364 
L 1120.883073 1306.667814 
L 1122.00037 1318.847682 
L 1126.469559 1375.06609 
L 1128.704153 1405.574813 
L 1132.056044 1458.775216 
L 1133.905933 1494 
L 1133.905933 1494 
" clip-path="url(#pf368dae28a)" style="fill: none; stroke: #ff4500; stroke-width: 3.8; stroke-linecap: square"/>
   </g>
   <g id="patch_6">
    <path d="M 146.6 1126 
L 146.6 4.1 
" style="fill: none; stroke: #000000; stroke-width: 2.3; stroke-linejoin: miter; stroke-linecap: square"/>
   </g>
   <g id="patch_7">
    <path d="M 1495.7 1126 
L 1495.7 4.1 
" style="fill: none; stroke: #000000; stroke-width: 2.3; stroke-linejoin: miter; stroke-linecap: square"/>
   </g>
   <g id="patch_8">
    <path d="M 146.6 1126 
L 1495.7 1126 
" style="fill: none; stroke: #000000; stroke-width: 2.3; stroke-linejoin: miter; stroke-linecap: square"/>
   </g>
   <g id="patch_9">
    <path d="M 146.6 4.1 
L 1495.7 4.1 
" style="fill: none; stroke: #000000; stroke-width: 2.3; stroke-linejoin: miter; stroke-linecap: square"/>
   </g>
   <g id="LineCollection_3">
    <path d="M 240.8 130.6 
L 240.8 50.2 
" clip-path="url(#pf368dae28a)" style="fill: none; stroke: #000000; stroke-width: 3.6"/>
    <path d="M 386.5 122.5 
L 386.5 64.1 
" clip-path="url(#pf368dae28a)" style="fill: none; stroke: #000000; stroke-width: 3.6"/>
    <path d="M 458.4 123.8 
L 458.4 81.6 
" clip-path="url(#pf368dae28a)" style="fill: none; stroke: #000000; stroke-width: 3.6"/>
    <path d="M 521.8 132.5 
L 521.8 99.5 
" clip-path="url(#pf368dae28a)" style="fill: none; stroke: #000000; stroke-width: 3.6"/>
    <path d="M 581.7 150.2 
L 581.7 125.2 
" clip-path="url(#pf368dae28a)" style="fill: none; stroke: #000000; stroke-width: 3.6"/>
    <path d="M 639.9 186.6 
L 639.9 161.2 
" clip-path="url(#pf368dae28a)" style="fill: none; stroke: #000000; stroke-width: 3.6"/>
    <path d="M 679.8 228.6 
L 679.8 202.3 
" clip-path="url(#pf368dae28a)" style="fill: none; stroke: #000000; stroke-width: 3.6"/>
    <path d="M 712.2 268.4 
L 712.2 243.9 
" clip-path="url(#pf368dae28a)" style="fill: none; stroke: #000000; stroke-width: 3.6"/>
    <path d="M 746.7 302.8 
L 746.7 289.8 
" clip-path="url(#pf368dae28a)" style="fill: none; stroke: #000000; stroke-width: 3.6"/>
    <path d="M 775.6 345.7 
L 775.6 320.3 
" clip-path="url(#pf368dae28a)" style="fill: none; stroke: #000000; stroke-width: 3.6"/>
    <path d="M 799.6 374.6 
L 799.6 350.5 
" clip-path="url(#pf368dae28a)" style="fill: none; stroke: #000000; stroke-width: 3.6"/>
    <path d="M 818.8 416 
L 818.8 373.8 
" clip-path="url(#pf368dae28a)" style="fill: none; stroke: #000000; stroke-width: 3.6"/>
    <path d="M 846.4 458.4 
L 846.4 426.2 
" clip-path="url(#pf368dae28a)" style="fill: none; stroke: #000000; stroke-width: 3.6"/>
    <path d="M 879 520.4 
L 879 468.8 
" clip-path="url(#pf368dae28a)" style="fill: none; stroke: #000000; stroke-width: 3.6"/>
    <path d="M 912.9 566.4 
L 912.9 527 
" clip-path="url(#pf368dae28a)" style="fill: none; stroke: #000000; stroke-width: 3.6"/>
    <path d="M 943.5 663.1 
L 943.5 570.1 
" clip-path="url(#pf368dae28a)" style="fill: none; stroke: #000000; stroke-width: 3.6"/>
    <path d="M 976.4 771.2 
L 976.4 609.5 
" clip-path="url(#pf368dae28a)" style="fill: none; stroke: #000000; stroke-width: 3.6"/>
    <path d="M 1046.1 1076.3 
L 1046.1 782.9 
" clip-path="url(#pf368dae28a)" style="fill: none; stroke: #000000; stroke-width: 3.6"/>
   </g>
   <g id="line2d_102">
    <defs>
     <path id="me9827acd6f" d="M 12.2 0 
L -12.2 -0 
" style="stroke: #000000; stroke-width: 2.2"/>
    </defs>
    <g clip-path="url(#pf368dae28a)">
     <use xlink:href="#me9827acd6f" x="240.8" y="130.6" style="fill: #2ca02c; stroke: #000000; stroke-width: 2.2"/>
     <use xlink:href="#me9827acd6f" x="386.5" y="122.5" style="fill: #2ca02c; stroke: #000000; stroke-width: 2.2"/>
     <use xlink:href="#me9827acd6f" x="458.4" y="123.8" style="fill: #2ca02c; stroke: #000000; stroke-width: 2.2"/>
     <use xlink:href="#me9827acd6f" x="521.8" y="132.5" style="fill: #2ca02c; stroke: #000000; stroke-width: 2.2"/>
     <use xlink:href="#me9827acd6f" x="581.7" y="150.2" style="fill: #2ca02c; stroke: #000000; stroke-width: 2.2"/>
     <use xlink:href="#me9827acd6f" x="639.9" y="186.6" style="fill: #2ca02c; stroke: #000000; stroke-width: 2.2"/>
     <use xlink:href="#me9827acd6f" x="679.8" y="228.6" style="fill: #2ca02c; stroke: #000000; stroke-width: 2.2"/>
     <use xlink:href="#me9827acd6f" x="712.2" y="268.4" style="fill: #2ca02c; stroke: #000000; stroke-width: 2.2"/>
     <use xlink:href="#me9827acd6f" x="746.7" y="302.8" style="fill: #2ca02c; stroke: #000000; stroke-width: 2.2"/>
     <use xlink:href="#me9827acd6f" x="775.6" y="345.7" style="fill: #2ca02c; stroke: #000000; stroke-width: 2.2"/>
     <use xlink:href="#me9827acd6f" x="799.6" y="374.6" style="fill: #2ca02c; stroke: #000000; stroke-width: 2.2"/>
     <use xlink:href="#me9827acd6f" x="818.8" y="416" style="fill: #2ca02c; stroke: #000000; stroke-width: 2.2"/>
     <use xlink:href="#me9827acd6f" x="846.4" y="458.4" style="fill: #2ca02c; stroke: #000000; stroke-width: 2.2"/>
     <use xlink:href="#me9827acd6f" x="879" y="520.4" style="fill: #2ca02c; stroke: #000000; stroke-width: 2.2"/>
     <use xlink:href="#me9827acd6f" x="912.9" y="566.4" style="fill: #2ca02c; stroke: #000000; stroke-width: 2.2"/>
     <use xlink:href="#me9827acd6f" x="943.5" y="663.1" style="fill: #2ca02c; stroke: #000000; stroke-width: 2.2"/>
     <use xlink:href="#me9827acd6f" x="976.4" y="771.2" style="fill: #2ca02c; stroke: #000000; stroke-width: 2.2"/>
     <use xlink:href="#me9827acd6f" x="1046.1" y="1076.3" style="fill: #2ca02c; stroke: #000000; stroke-width: 2.2"/>
    </g>
   </g>
   <g id="line2d_103">
    <g clip-path="url(#pf368dae28a)">
     <use xlink:href="#me9827acd6f" x="240.8" y="50.2" style="fill: #2ca02c; stroke: #000000; stroke-width: 2.2"/>
     <use xlink:href="#me9827acd6f" x="386.5" y="64.1" style="fill: #2ca02c; stroke: #000000; stroke-width: 2.2"/>
     <use xlink:href="#me9827acd6f" x="458.4" y="81.6" style="fill: #2ca02c; stroke: #000000; stroke-width: 2.2"/>
     <use xlink:href="#me9827acd6f" x="521.8" y="99.5" style="fill: #2ca02c; stroke: #000000; stroke-width: 2.2"/>
     <use xlink:href="#me9827acd6f" x="581.7" y="125.2" style="fill: #2ca02c; stroke: #000000; stroke-width: 2.2"/>
     <use xlink:href="#me9827acd6f" x="639.9" y="161.2" style="fill: #2ca02c; stroke: #000000; stroke-width: 2.2"/>
     <use xlink:href="#me9827acd6f" x="679.8" y="202.3" style="fill: #2ca02c; stroke: #000000; stroke-width: 2.2"/>
     <use xlink:href="#me9827acd6f" x="712.2" y="243.9" style="fill: #2ca02c; stroke: #000000; stroke-width: 2.2"/>
     <use xlink:href="#me9827acd6f" x="746.7" y="289.8" style="fill: #2ca02c; stroke: #000000; stroke-width: 2.2"/>
     <use xlink:href="#me9827acd6f" x="775.6" y="320.3" style="fill: #2ca02c; stroke: #000000; stroke-width: 2.2"/>
     <use xlink:href="#me9827acd6f" x="799.6" y="350.5" style="fill: #2ca02c; stroke: #000000; stroke-width: 2.2"/>
     <use xlink:href="#me9827acd6f" x="818.8" y="373.8" style="fill: #2ca02c; stroke: #000000; stroke-width: 2.2"/>
     <use xlink:href="#me9827acd6f" x="846.4" y="426.2" style="fill: #2ca02c; stroke: #000000; stroke-width: 2.2"/>
     <use xlink:href="#me9827acd6f" x="879" y="468.8" style="fill: #2ca02c; stroke: #000000; stroke-width: 2.2"/>
     <use xlink:href="#me9827acd6f" x="912.9" y="527" style="fill: #2ca02c; stroke: #000000; stroke-width: 2.2"/>
     <use xlink:href="#me9827acd6f" x="943.5" y="570.1" style="fill: #2ca02c; stroke: #000000; stroke-width: 2.2"/>
     <use xlink:href="#me9827acd6f" x="976.4" y="609.5" style="fill: #2ca02c; stroke: #000000; stroke-width: 2.2"/>
     <use xlink:href="#me9827acd6f" x="1046.1" y="782.9" style="fill: #2ca02c; stroke: #000000; stroke-width: 2.2"/>
    </g>
   </g>
   <g id="line2d_104">
    <defs>
     <path id="m0f5a072384" d="M 0 11.5 
C 3.049836 11.5 5.975169 10.288287 8.131728 8.131728 
C 10.288287 5.975169 11.5 3.049836 11.5 0 
C 11.5 -3.049836 10.288287 -5.975169 8.131728 -8.131728 
C 5.975169 -10.288287 3.049836 -11.5 0 -11.5 
C -3.049836 -11.5 -5.975169 -10.288287 -8.131728 -8.131728 
C -10.288287 -5.975169 -11.5 -3.049836 -11.5 0 
C -11.5 3.049836 -10.288287 5.975169 -8.131728 8.131728 
C -5.975169 10.288287 -3.049836 11.5 0 11.5 
z
" style="stroke: #000000; stroke-width: 2.2"/>
    </defs>
    <g clip-path="url(#pf368dae28a)">
     <use xlink:href="#m0f5a072384" x="240.8" y="90.8" style="stroke: #000000; stroke-width: 2.2"/>
     <use xlink:href="#m0f5a072384" x="386.5" y="93.3" style="stroke: #000000; stroke-width: 2.2"/>
     <use xlink:href="#m0f5a072384" x="458.4" y="104" style="stroke: #000000; stroke-width: 2.2"/>
     <use xlink:href="#m0f5a072384" x="521.8" y="116.7" style="stroke: #000000; stroke-width: 2.2"/>
     <use xlink:href="#m0f5a072384" x="581.7" y="137.7" style="stroke: #000000; stroke-width: 2.2"/>
     <use xlink:href="#m0f5a072384" x="639.9" y="173.9" style="stroke: #000000; stroke-width: 2.2"/>
     <use xlink:href="#m0f5a072384" x="679.8" y="214.7" style="stroke: #000000; stroke-width: 2.2"/>
     <use xlink:href="#m0f5a072384" x="712.2" y="256.1" style="stroke: #000000; stroke-width: 2.2"/>
     <use xlink:href="#m0f5a072384" x="746.7" y="296.3" style="stroke: #000000; stroke-width: 2.2"/>
     <use xlink:href="#m0f5a072384" x="775.6" y="332.8" style="stroke: #000000; stroke-width: 2.2"/>
     <use xlink:href="#m0f5a072384" x="799.6" y="362.3" style="stroke: #000000; stroke-width: 2.2"/>
     <use xlink:href="#m0f5a072384" x="818.8" y="397.2" style="stroke: #000000; stroke-width: 2.2"/>
     <use xlink:href="#m0f5a072384" x="846.4" y="442.7" style="stroke: #000000; stroke-width: 2.2"/>
     <use xlink:href="#m0f5a072384" x="879" y="494.8" style="stroke: #000000; stroke-width: 2.2"/>
     <use xlink:href="#m0f5a072384" x="912.9" y="547.8" style="stroke: #000000; stroke-width: 2.2"/>
     <use xlink:href="#m0f5a072384" x="943.5" y="616.5" style="stroke: #000000; stroke-width: 2.2"/>
     <use xlink:href="#m0f5a072384" x="976.4" y="690.1" style="stroke: #000000; stroke-width: 2.2"/>
     <use xlink:href="#m0f5a072384" x="1046.1" y="930.6" style="stroke: #000000; stroke-width: 2.2"/>
    </g>
   </g>
  </g>
  <g id="axes_2">
   <g id="patch_10">
    <path d="M 146.6 1407.3 
L 1495.7 1407.3 
L 1495.7 1126 
L 146.6 1126 
z
" style="fill: #ffffff"/>
   </g>
   <g id="patch_11">
    <path d="M 614 1407.3 
L 637.6 1407.3 
L 637.6 1126 
L 614 1126 
z
" clip-path="url(#p17567d8ba6)" style="fill: #808080; opacity: 0.2"/>
   </g>
   <g id="patch_12">
    <path d="M 817.8 1407.3 
L 853.6 1407.3 
L 853.6 1126 
L 817.8 1126 
z
" clip-path="url(#p17567d8ba6)" style="fill: #808080; opacity: 0.2"/>
   </g>
   <g id="patch_13">
    <path d="M 1126.8 1407.3 
L 1180.8 1407.3 
L 1180.8 1126 
L 1126.8 1126 
z
" clip-path="url(#p17567d8ba6)" style="fill: #808080; opacity: 0.2"/>
   </g>
   <g id="line2d_105">
    <path d="M 624.1 1407.3 
L 624.1 1126 
" clip-path="url(#p17567d8ba6)" style="fill: none; stroke-dasharray: 13.45,5.5; stroke-dashoffset: 2.7; stroke: #000000; stroke-width: 3.9"/>
   </g>
   <g id="line2d_106">
    <path d="M 831.4 1407.3 
L 831.4 1126 
" clip-path="url(#p17567d8ba6)" style="fill: none; stroke-dasharray: 23.1,5.5,3.8,5.5; stroke-dashoffset: 2.4; stroke: #000000; stroke-width: 3.9"/>
   </g>
   <g id="line2d_107">
    <path d="M 1150 1407.3 
L 1150 1126 
" clip-path="url(#p17567d8ba6)" style="fill: none; stroke-dasharray: 3.8,5.67; stroke-dashoffset: 2.6; stroke: #000000; stroke-width: 3.9"/>
   </g>
   <g id="matplotlib.axis_3">
    <g id="xtick_37">
     <g id="line2d_108">
      <g>
       <use xlink:href="#m3c8b9e64c5" x="283.5" y="1407.3" style="stroke: #000000; stroke-width: 2.3"/>
      </g>
     </g>
     <g id="line2d_109">
      <g>
       <use xlink:href="#m40d219a0ed" x="283.5" y="1126" style="stroke: #000000; stroke-width: 2.3"/>
      </g>
     </g>
     <g id="text_11">
      <text style="font-size: 27.6px; font-family: 'DejaVu Sans', 'Liberation Sans', sans-serif; text-anchor: middle" x="283.5" y="1436.271688" transform="rotate(-0 283.5 1436.271688)">1</text>
     </g>
    </g>
    <g id="xtick_38">
     <g id="line2d_110">
      <g>
       <use xlink:href="#m3c8b9e64c5" x="625.5" y="1407.3" style="stroke: #000000; stroke-width: 2.3"/>
      </g>
     </g>
     <g id="line2d_111">
      <g>
       <use xlink:href="#m40d219a0ed" x="625.5" y="1126" style="stroke: #000000; stroke-width: 2.3"/>
      </g>
     </g>
     <g id="text_12">
      <text style="font-size: 27.6px; font-family: 'DejaVu Sans', 'Liberation Sans', sans-serif; text-anchor: middle" x="625.5" y="1436.271688" transform="rotate(-0 625.5 1436.271688)">10</text>
     </g>
    </g>
    <g id="xtick_39">
     <g id="line2d_112">
      <g>
       <use xlink:href="#m3c8b9e64c5" x="967.5" y="1407.3" style="stroke: #000000; stroke-width: 2.3"/>
      </g>
     </g>
     <g id="line2d_113">
      <g>
       <use xlink:href="#m40d219a0ed" x="967.5" y="1126" style="stroke: #000000; stroke-width: 2.3"/>
      </g>
     </g>
     <g id="text_13">
      <text style="font-size: 27.6px; font-family: 'DejaVu Sans', 'Liberation Sans', sans-serif; text-anchor: middle" x="967.5" y="1436.271688" transform="rotate(-0 967.5 1436.271688)">100</text>
     </g>
    </g>
    <g id="xtick_40">
     <g id="line2d_114">
      <g>
       <use xlink:href="#m3c8b9e64c5" x="147.404517" y="1407.3" style="stroke: #000000; stroke-width: 2.3"/>
      </g>
     </g>
     <g id="line2d_115">
      <g>
       <use xlink:href="#m40d219a0ed" x="147.404517" y="1126" style="stroke: #000000; stroke-width: 2.3"/>
      </g>
     </g>
    </g>
    <g id="xtick_41">
     <g id="line2d_116">
      <g>
       <use xlink:href="#m3c8b9e64c5" x="180.547741" y="1407.3" style="stroke: #000000; stroke-width: 2.3"/>
      </g>
     </g>
     <g id="line2d_117">
      <g>
       <use xlink:href="#m40d219a0ed" x="180.547741" y="1126" style="stroke: #000000; stroke-width: 2.3"/>
      </g>
     </g>
    </g>
    <g id="xtick_42">
     <g id="line2d_118">
      <g>
       <use xlink:href="#m3c8b9e64c5" x="207.627728" y="1407.3" style="stroke: #000000; stroke-width: 2.3"/>
      </g>
     </g>
     <g id="line2d_119">
      <g>
       <use xlink:href="#m40d219a0ed" x="207.627728" y="1126" style="stroke: #000000; stroke-width: 2.3"/>
      </g>
     </g>
    </g>
    <g id="xtick_43">
     <g id="line2d_120">
      <g>
       <use xlink:href="#m3c8b9e64c5" x="230.52353" y="1407.3" style="stroke: #000000; stroke-width: 2.3"/>
      </g>
     </g>
     <g id="line2d_121">
      <g>
       <use xlink:href="#m40d219a0ed" x="230.52353" y="1126" style="stroke: #000000; stroke-width: 2.3"/>
      </g>
     </g>
    </g>
    <g id="xtick_44">
     <g id="line2d_122">
      <g>
       <use xlink:href="#m3c8b9e64c5" x="250.356776" y="1407.3" style="stroke: #000000; stroke-width: 2.3"/>
      </g>
     </g>
     <g id="line2d_123">
      <g>
       <use xlink:href="#m40d219a0ed" x="250.356776" y="1126" style="stroke: #000000; stroke-width: 2.3"/>
      </g>
     </g>
    </g>
    <g id="xtick_45">
     <g id="line2d_124">
      <g>
       <use xlink:href="#m3c8b9e64c5" x="267.850938" y="1407.3" style="stroke: #000000; stroke-width: 2.3"/>
      </g>
     </g>
     <g id="line2d_125">
      <g>
       <use xlink:href="#m40d219a0ed" x="267.850938" y="1126" style="stroke: #000000; stroke-width: 2.3"/>
      </g>
     </g>
    </g>
    <g id="xtick_46">
     <g id="line2d_126">
      <g>
       <use xlink:href="#m3c8b9e64c5" x="386.452259" y="1407.3" style="stroke: #000000; stroke-width: 2.3"/>
      </g>
     </g>
     <g id="line2d_127">
      <g>
       <use xlink:href="#m40d219a0ed" x="386.452259" y="1126" style="stroke: #000000; stroke-width: 2.3"/>
      </g>
     </g>
    </g>
    <g id="xtick_47">
     <g id="line2d_128">
      <g>
       <use xlink:href="#m3c8b9e64c5" x="446.675469" y="1407.3" style="stroke: #000000; stroke-width: 2.3"/>
      </g>
     </g>
     <g id="line2d_129">
      <g>
       <use xlink:href="#m40d219a0ed" x="446.675469" y="1126" style="stroke: #000000; stroke-width: 2.3"/>
      </g>
     </g>
    </g>
    <g id="xtick_48">
     <g id="line2d_130">
      <g>
       <use xlink:href="#m3c8b9e64c5" x="489.404517" y="1407.3" style="stroke: #000000; stroke-width: 2.3"/>
      </g>
     </g>
     <g id="line2d_131">
      <g>
       <use xlink:href="#m40d219a0ed" x="489.404517" y="1126" style="stroke: #000000; stroke-width: 2.3"/>
      </g>
     </g>
    </g>
    <g id="xtick_49">
     <g id="line2d_132">
      <g>
       <use xlink:href="#m3c8b9e64c5" x="522.547741" y="1407.3" style="stroke: #000000; stroke-width: 2.3"/>
      </g>
     </g>
     <g id="line2d_133">
      <g>
       <use xlink:href="#m40d219a0ed" x="522.547741" y="1126" style="stroke: #000000; stroke-width: 2.3"/>
      </g>
     </g>
    </g>
    <g id="xtick_50">
     <g id="line2d_134">
      <g>
       <use xlink:href="#m3c8b9e64c5" x="549.627728" y="1407.3" style="stroke: #000000; stroke-width: 2.3"/>
      </g>
     </g>
     <g id="line2d_135">
      <g>
       <use xlink:href="#m40d219a0ed" x="549.627728" y="1126" style="stroke: #000000; stroke-width: 2.3"/>
      </g>
     </g>
    </g>
    <g id="xtick_51">
     <g id="line2d_136">
      <g>
       <use xlink:href="#m3c8b9e64c5" x="572.52353" y="1407.3" style="stroke: #000000; stroke-width: 2.3"/>
      </g>
     </g>
     <g id="line2d_137">
      <g>
       <use xlink:href="#m40d219a0ed" x="572.52353" y="1126" style="stroke: #000000; stroke-width: 2.3"/>
      </g>
     </g>
    </g>
    <g id="xtick_52">
     <g id="line2d_138">
      <g>
       <use xlink:href="#m3c8b9e64c5" x="592.356776" y="1407.3" style="stroke: #000000; stroke-width: 2.3"/>
      </g>
     </g>
     <g id="line2d_139">
      <g>
       <use xlink:href="#m40d219a0ed" x="592.356776" y="1126" style="stroke: #000000; stroke-width: 2.3"/>
      </g>
     </g>
    </g>
    <g id="xtick_53">
     <g id="line2d_140">
      <g>
       <use xlink:href="#m3c8b9e64c5" x="609.850938" y="1407.3" style="stroke: #000000; stroke-width: 2.3"/>
      </g>
     </g>
     <g id="line2d_141">
      <g>
       <use xlink:href="#m40d219a0ed" x="609.850938" y="1126" style="stroke: #000000; stroke-width: 2.3"/>
      </g>
     </g>
    </g>
    <g id="xtick_54">
     <g id="line2d_142">
      <g>
       <use xlink:href="#m3c8b9e64c5" x="728.452259" y="1407.3" style="stroke: #000000; stroke-width: 2.3"/>
      </g>
     </g>
     <g id="line2d_143">
      <g>
       <use xlink:href="#m40d219a0ed" x="728.452259" y="1126" style="stroke: #000000; stroke-width: 2.3"/>
      </g>
     </g>
    </g>
    <g id="xtick_55">
     <g id="line2d_144">
      <g>
       <use xlink:href="#m3c8b9e64c5" x="788.675469" y="1407.3" style="stroke: #000000; stroke-width: 2.3"/>
      </g>
     </g>
     <g id="line2d_145">
      <g>
       <use xlink:href="#m40d219a0ed" x="788.675469" y="1126" style="stroke: #000000; stroke-width: 2.3"/>
      </g>
     </g>
    </g>
    <g id="xtick_56">
     <g id="line2d_146">
      <g>
       <use xlink:href="#m3c8b9e64c5" x="831.404517" y="1407.3" style="stroke: #000000; stroke-width: 2.3"/>
      </g>
     </g>
     <g id="line2d_147">
      <g>
       <use xlink:href="#m40d219a0ed" x="831.404517" y="1126" style="stroke: #000000; stroke-width: 2.3"/>
      </g>
     </g>
    </g>
    <g id="xtick_57">
     <g id="line2d_148">
      <g>
       <use xlink:href="#m3c8b9e64c5" x="864.547741" y="1407.3" style="stroke: #000000; stroke-width: 2.3"/>
      </g>
     </g>
     <g id="line2d_149">
      <g>
       <use xlink:href="#m40d219a0ed" x="864.547741" y="1126" style="stroke: #000000; stroke-width: 2.3"/>
      </g>
     </g>
    </g>
    <g id="xtick_58">
     <g id="line2d_150">
      <g>
       <use xlink:href="#m3c8b9e64c5" x="891.627728" y="1407.3" style="stroke: #000000; stroke-width: 2.3"/>
      </g>
     </g>
     <g id="line2d_151">
      <g>
       <use xlink:href="#m40d219a0ed" x="891.627728" y="1126" style="stroke: #000000; stroke-width: 2.3"/>
      </g>
     </g>
    </g>
    <g id="xtick_59">
     <g id="line2d_152">
      <g>
       <use xlink:href="#m3c8b9e64c5" x="914.52353" y="1407.3" style="stroke: #000000; stroke-width: 2.3"/>
      </g>
     </g>
     <g id="line2d_153">
      <g>
       <use xlink:href="#m40d219a0ed" x="914.52353" y="1126" style="stroke: #000000; stroke-width: 2.3"/>
      </g>
     </g>
    </g>
    <g id="xtick_60">
     <g id="line2d_154">
      <g>
       <use xlink:href="#m3c8b9e64c5" x="934.356776" y="1407.3" style="stroke: #000000; stroke-width: 2.3"/>
      </g>
     </g>
     <g id="line2d_155">
      <g>
       <use xlink:href="#m40d219a0ed" x="934.356776" y="1126" style="stroke: #000000; stroke-width: 2.3"/>
      </g>
     </g>
    </g>
    <g id="xtick_61">
     <g id="line2d_156">
      <g>
       <use xlink:href="#m3c8b9e64c5" x="951.850938" y="1407.3" style="stroke: #000000; stroke-width: 2.3"/>
      </g>
     </g>
     <g id="line2d_157">
      <g>
       <use xlink:href="#m40d219a0ed" x="951.850938" y="1126" style="stroke: #000000; stroke-width: 2.3"/>
      </g>
     </g>
    </g>
    <g id="xtick_62">
     <g id="line2d_158">
      <g>
       <use xlink:href="#m3c8b9e64c5" x="1070.452259" y="1407.3" style="stroke: #000000; stroke-width: 2.3"/>
      </g>
     </g>
     <g id="line2d_159">
      <g>
       <use xlink:href="#m40d219a0ed" x="1070.452259" y="1126" style="stroke: #000000; stroke-width: 2.3"/>
      </g>
     </g>
    </g>
    <g id="xtick_63">
     <g id="line2d_160">
      <g>
       <use xlink:href="#m3c8b9e64c5" x="1130.675469" y="1407.3" style="stroke: #000000; stroke-width: 2.3"/>
      </g>
     </g>
     <g id="line2d_161">
      <g>
       <use xlink:href="#m40d219a0ed" x="1130.675469" y="1126" style="stroke: #000000; stroke-width: 2.3"/>
      </g>
     </g>
    </g>
    <g id="xtick_64">
     <g id="line2d_162">
      <g>
       <use xlink:href="#m3c8b9e64c5" x="1173.404517" y="1407.3" style="stroke: #000000; stroke-width: 2.3"/>
      </g>
     </g>
     <g id="line2d_163">
      <g>
       <use xlink:href="#m40d219a0ed" x="1173.404517" y="1126" style="stroke: #000000; stroke-width: 2.3"/>
      </g>
     </g>
    </g>
    <g id="xtick_65">
     <g id="line2d_164">
      <g>
       <use xlink:href="#m3c8b9e64c5" x="1206.547741" y="1407.3" style="stroke: #000000; stroke-width: 2.3"/>
      </g>
     </g>
     <g id="line2d_165">
      <g>
       <use xlink:href="#m40d219a0ed" x="1206.547741" y="1126" style="stroke: #000000; stroke-width: 2.3"/>
      </g>
     </g>
    </g>
    <g id="xtick_66">
     <g id="line2d_166">
      <g>
       <use xlink:href="#m3c8b9e64c5" x="1233.627728" y="1407.3" style="stroke: #000000; stroke-width: 2.3"/>
      </g>
     </g>
     <g id="line2d_167">
      <g>
       <use xlink:href="#m40d219a0ed" x="1233.627728" y="1126" style="stroke: #000000; stroke-width: 2.3"/>
      </g>
     </g>
    </g>
    <g id="xtick_67">
     <g id="line2d_168">
      <g>
       <use xlink:href="#m3c8b9e64c5" x="1256.52353" y="1407.3" style="stroke: #000000; stroke-width: 2.3"/>
      </g>
     </g>
     <g id="line2d_169">
      <g>
       <use xlink:href="#m40d219a0ed" x="1256.52353" y="1126" style="stroke: #000000; stroke-width: 2.3"/>
      </g>
     </g>
    </g>
    <g id="xtick_68">
     <g id="line2d_170">
      <g>
       <use xlink:href="#m3c8b9e64c5" x="1276.356776" y="1407.3" style="stroke: #000000; stroke-width: 2.3"/>
      </g>
     </g>
     <g id="line2d_171">
      <g>
       <use xlink:href="#m40d219a0ed" x="1276.356776" y="1126" style="stroke: #000000; stroke-width: 2.3"/>
      </g>
     </g>
    </g>
    <g id="xtick_69">
     <g id="line2d_172">
      <g>
       <use xlink:href="#m3c8b9e64c5" x="1293.850938" y="1407.3" style="stroke: #000000; stroke-width: 2.3"/>
      </g>
     </g>
     <g id="line2d_173">
      <g>
       <use xlink:href="#m40d219a0ed" x="1293.850938" y="1126" style="stroke: #000000; stroke-width: 2.3"/>
      </g>
     </g>
    </g>
    <g id="xtick_70">
     <g id="line2d_174">
      <g>
       <use xlink:href="#m3c8b9e64c5" x="1412.452259" y="1407.3" style="stroke: #000000; stroke-width: 2.3"/>
      </g>
     </g>
     <g id="line2d_175">
      <g>
       <use xlink:href="#m40d219a0ed" x="1412.452259" y="1126" style="stroke: #000000; stroke-width: 2.3"/>
      </g>
     </g>
    </g>
    <g id="xtick_71">
     <g id="line2d_176">
      <g>
       <use xlink:href="#m3c8b9e64c5" x="1472.675469" y="1407.3" style="stroke: #000000; stroke-width: 2.3"/>
      </g>
     </g>
     <g id="line2d_177">
      <g>
       <use xlink:href="#m40d219a0ed" x="1472.675469" y="1126" style="stroke: #000000; stroke-width: 2.3"/>
      </g>
     </g>
    </g>
    <g id="text_14">
     <g transform="translate(716.434 1485.8)">
      <text><tspan x="0.000" y="-0.328125" style="font-style: oblique; font-size: 42.8px; font-family: 'DejaVu Sans', 'Liberation Sans', sans-serif">r</tspan> <tspan x="38.398" y="-0.328125" style="font-size: 42.8px; font-family: 'DejaVu Sans', 'Liberation Sans', sans-serif">[</tspan><tspan x="55.076 81.273 98.849 122.353 144.626 170.927" y="-0.328125" style="font-style: oblique; font-size: 42.8px; font-family: 'DejaVu Sans', 'Liberation Sans', sans-serif">arcsec</tspan><tspan x="194.431" y="-0.328125" style="font-size: 42.8px; font-family: 'DejaVu Sans', 'Liberation Sans', sans-serif">]</tspan></text>
     </g>
    </g>
   </g>
   <g id="matplotlib.axis_4">
    <g id="ytick_10">
     <g id="line2d_178">
      <g>
       <use xlink:href="#m7696badb13" x="146.6" y="1343.3" style="stroke: #000000; stroke-width: 2.3"/>
      </g>
     </g>
     <g id="line2d_179">
      <g>
       <use xlink:href="#m417fa5fb0a" x="1495.7" y="1343.3" style="stroke: #000000; stroke-width: 2.3"/>
      </g>
     </g>
     <g id="text_15">
      <text style="font-size: 27.6px; font-family: 'DejaVu Sans', 'Liberation Sans', sans-serif; text-anchor: end" x="137" y="1353.785844" transform="rotate(-0 137 1353.785844)">−0.5</text>
     </g>
    </g>
    <g id="ytick_11">
     <g id="line2d_180">
      <g>
       <use xlink:href="#m7696badb13" x="146.6" y="1266.2" style="stroke: #000000; stroke-width: 2.3"/>
      </g>
     </g>
     <g id="line2d_181">
      <g>
       <use xlink:href="#m417fa5fb0a" x="1495.7" y="1266.2" style="stroke: #000000; stroke-width: 2.3"/>
      </g>
     </g>
     <g id="text_16">
      <text style="font-size: 27.6px; font-family: 'DejaVu Sans', 'Liberation Sans', sans-serif; text-anchor: end" x="137" y="1276.685844" transform="rotate(-0 137 1276.685844)">0.0</text>
     </g>
    </g>
    <g id="ytick_12">
     <g id="line2d_182">
      <g>
       <use xlink:href="#m7696badb13" x="146.6" y="1189.1" style="stroke: #000000; stroke-width: 2.3"/>
      </g>
     </g>
     <g id="line2d_183">
      <g>
       <use xlink:href="#m417fa5fb0a" x="1495.7" y="1189.1" style="stroke: #000000; stroke-width: 2.3"/>
      </g>
     </g>
     <g id="text_17">
      <text style="font-size: 27.6px; font-family: 'DejaVu Sans', 'Liberation Sans', sans-serif; text-anchor: end" x="137" y="1199.585844" transform="rotate(-0 137 1199.585844)">0.5</text>
     </g>
    </g>
    <g id="text_18">
     <g transform="translate(49.3 1408.066) rotate(-90)">
      <text><tspan x="0.000 29.245" y="-0.328125" style="font-size: 42.8px; font-family: 'DejaVu Sans', 'Liberation Sans', sans-serif">Δ(</tspan><tspan x="45.923 87.567 113.722" y="-0.328125" style="font-style: oblique; font-size: 42.8px; font-family: 'DejaVu Sans', 'Liberation Sans', sans-serif">mod</tspan><tspan x="149.187" y="-0.328125" style="font-size: 42.8px; font-family: 'DejaVu Sans', 'Liberation Sans', sans-serif">−</tspan><tspan x="193.335 219.490 246.627" y="-0.328125" style="font-style: oblique; font-size: 42.8px; font-family: 'DejaVu Sans', 'Liberation Sans', sans-serif">obs</tspan><tspan x="268.899" y="-0.328125" style="font-size: 42.8px; font-family: 'DejaVu Sans', 'Liberation Sans', sans-serif">)</tspan></text>
     </g>
    </g>
   </g>
   <g id="line2d_184">
    <path d="M 146.6 1266.2 
L 1495.7 1266.2 
" clip-path="url(#p17567d8ba6)" style="fill: none; stroke-dasharray: 13.45,5.5; stroke-dashoffset: 0.4; stroke: #000000; stroke-width: 3.9"/>
   </g>
   <g id="patch_14">
    <path d="M 146.6 1407.3 
L 146.6 1126 
" style="fill: none; stroke: #000000; stroke-width: 2.3; stroke-linejoin: miter; stroke-linecap: square"/>
   </g>
   <g id="patch_15">
    <path d="M 1495.7 1407.3 
L 1495.7 1126 
" style="fill: none; stroke: #000000; stroke-width: 2.3; stroke-linejoin: miter; stroke-linecap: square"/>
   </g>
   <g id="patch_16">
    <path d="M 146.6 1407.3 
L 1495.7 1407.3 
" style="fill: none; stroke: #000000; stroke-width: 2.3; stroke-linejoin: miter; stroke-linecap: square"/>
   </g>
   <g id="patch_17">
    <path d="M 146.6 1126 
L 1495.7 1126 
" style="fill: none; stroke: #000000; stroke-width: 2.3; stroke-linejoin: miter; stroke-linecap: square"/>
   </g>
   <g id="LineCollection_4">
    <path d="M 240.7 1292.2 
L 240.7 1242.3 
" clip-path="url(#p17567d8ba6)" style="fill: none; stroke: #000000; stroke-width: 3.6"/>
    <path d="M 386.5 1287.5 
L 386.5 1249.7 
" clip-path="url(#p17567d8ba6)" style="fill: none; stroke: #000000; stroke-width: 3.6"/>
    <path d="M 458.6 1280.5 
L 458.6 1252.6 
" clip-path="url(#p17567d8ba6)" style="fill: none; stroke: #000000; stroke-width: 3.6"/>
    <path d="M 521.8 1276.1 
L 521.8 1255.5 
" clip-path="url(#p17567d8ba6)" style="fill: none; stroke: #000000; stroke-width: 3.6"/>
    <path d="M 581.8 1275 
L 581.8 1259 
" clip-path="url(#p17567d8ba6)" style="fill: none; stroke: #000000; stroke-width: 3.6"/>
    <path d="M 640 1275.7 
L 640 1259.7 
" clip-path="url(#p17567d8ba6)" style="fill: none; stroke: #000000; stroke-width: 3.6"/>
    <path d="M 679.9 1274 
L 679.9 1258 
" clip-path="url(#p17567d8ba6)" style="fill: none; stroke: #000000; stroke-width: 3.6"/>
    <path d="M 712.3 1271.3 
L 712.3 1255.3 
" clip-path="url(#p17567d8ba6)" style="fill: none; stroke: #000000; stroke-width: 3.6"/>
    <path d="M 746.8 1271.3 
L 746.8 1257.3 
" clip-path="url(#p17567d8ba6)" style="fill: none; stroke: #000000; stroke-width: 3.6"/>
    <path d="M 775.7 1274.7 
L 775.7 1258.7 
" clip-path="url(#p17567d8ba6)" style="fill: none; stroke: #000000; stroke-width: 3.6"/>
    <path d="M 799.5 1277.5 
L 799.5 1262.5 
" clip-path="url(#p17567d8ba6)" style="fill: none; stroke: #000000; stroke-width: 3.6"/>
    <path d="M 818.6 1276 
L 818.6 1253.3 
" clip-path="url(#p17567d8ba6)" style="fill: none; stroke: #000000; stroke-width: 3.6"/>
    <path d="M 846.3 1273.3 
L 846.3 1253.3 
" clip-path="url(#p17567d8ba6)" style="fill: none; stroke: #000000; stroke-width: 3.6"/>
    <path d="M 878.8 1280.7 
L 878.8 1248 
" clip-path="url(#p17567d8ba6)" style="fill: none; stroke: #000000; stroke-width: 3.6"/>
    <path d="M 912.8 1280.7 
L 912.8 1256.7 
" clip-path="url(#p17567d8ba6)" style="fill: none; stroke: #000000; stroke-width: 3.6"/>
    <path d="M 943.4 1292.3 
L 943.4 1234.3 
" clip-path="url(#p17567d8ba6)" style="fill: none; stroke: #000000; stroke-width: 3.6"/>
    <path d="M 976.3 1311.7 
L 976.3 1210 
" clip-path="url(#p17567d8ba6)" style="fill: none; stroke: #000000; stroke-width: 3.6"/>
    <path d="M 1046.5 1325 
L 1046.5 1141.7 
" clip-path="url(#p17567d8ba6)" style="fill: none; stroke: #000000; stroke-width: 3.6"/>
   </g>
   <g id="line2d_185">
    <g clip-path="url(#p17567d8ba6)">
     <use xlink:href="#m9b4687b812" x="240.7" y="1292.2" style="fill: #1f77b4; stroke: #000000; stroke-width: 2.2"/>
     <use xlink:href="#m9b4687b812" x="386.5" y="1287.5" style="fill: #1f77b4; stroke: #000000; stroke-width: 2.2"/>
     <use xlink:href="#m9b4687b812" x="458.6" y="1280.5" style="fill: #1f77b4; stroke: #000000; stroke-width: 2.2"/>
     <use xlink:href="#m9b4687b812" x="521.8" y="1276.1" style="fill: #1f77b4; stroke: #000000; stroke-width: 2.2"/>
     <use xlink:href="#m9b4687b812" x="581.8" y="1275" style="fill: #1f77b4; stroke: #000000; stroke-width: 2.2"/>
     <use xlink:href="#m9b4687b812" x="640" y="1275.7" style="fill: #1f77b4; stroke: #000000; stroke-width: 2.2"/>
     <use xlink:href="#m9b4687b812" x="679.9" y="1274" style="fill: #1f77b4; stroke: #000000; stroke-width: 2.2"/>
     <use xlink:href="#m9b4687b812" x="712.3" y="1271.3" style="fill: #1f77b4; stroke: #000000; stroke-width: 2.2"/>
     <use xlink:href="#m9b4687b812" x="746.8" y="1271.3" style="fill: #1f77b4; stroke: #000000; stroke-width: 2.2"/>
     <use xlink:href="#m9b4687b812" x="775.7" y="1274.7" style="fill: #1f77b4; stroke: #000000; stroke-width: 2.2"/>
     <use xlink:href="#m9b4687b812" x="799.5" y="1277.5" style="fill: #1f77b4; stroke: #000000; stroke-width: 2.2"/>
     <use xlink:href="#m9b4687b812" x="818.6" y="1276" style="fill: #1f77b4; stroke: #000000; stroke-width: 2.2"/>
     <use xlink:href="#m9b4687b812" x="846.3" y="1273.3" style="fill: #1f77b4; stroke: #000000; stroke-width: 2.2"/>
     <use xlink:href="#m9b4687b812" x="878.8" y="1280.7" style="fill: #1f77b4; stroke: #000000; stroke-width: 2.2"/>
     <use xlink:href="#m9b4687b812" x="912.8" y="1280.7" style="fill: #1f77b4; stroke: #000000; stroke-width: 2.2"/>
     <use xlink:href="#m9b4687b812" x="943.4" y="1292.3" style="fill: #1f77b4; stroke: #000000; stroke-width: 2.2"/>
     <use xlink:href="#m9b4687b812" x="976.3" y="1311.7" style="fill: #1f77b4; stroke: #000000; stroke-width: 2.2"/>
     <use xlink:href="#m9b4687b812" x="1046.5" y="1325" style="fill: #1f77b4; stroke: #000000; stroke-width: 2.2"/>
    </g>
   </g>
   <g id="line2d_186">
    <g clip-path="url(#p17567d8ba6)">
     <use xlink:href="#m9b4687b812" x="240.7" y="1242.3" style="fill: #1f77b4; stroke: #000000; stroke-width: 2.2"/>
     <use xlink:href="#m9b4687b812" x="386.5" y="1249.7" style="fill: #1f77b4; stroke: #000000; stroke-width: 2.2"/>
     <use xlink:href="#m9b4687b812" x="458.6" y="1252.6" style="fill: #1f77b4; stroke: #000000; stroke-width: 2.2"/>
     <use xlink:href="#m9b4687b812" x="521.8" y="1255.5" style="fill: #1f77b4; stroke: #000000; stroke-width: 2.2"/>
     <use xlink:href="#m9b4687b812" x="581.8" y="1259" style="fill: #1f77b4; stroke: #000000; stroke-width: 2.2"/>
     <use xlink:href="#m9b4687b812" x="640" y="1259.7" style="fill: #1f77b4; stroke: #000000; stroke-width: 2.2"/>
     <use xlink:href="#m9b4687b812" x="679.9" y="1258" style="fill: #1f77b4; stroke: #000000; stroke-width: 2.2"/>
     <use xlink:href="#m9b4687b812" x="712.3" y="1255.3" style="fill: #1f77b4; stroke: #000000; stroke-width: 2.2"/>
     <use xlink:href="#m9b4687b812" x="746.8" y="1257.3" style="fill: #1f77b4; stroke: #000000; stroke-width: 2.2"/>
     <use xlink:href="#m9b4687b812" x="775.7" y="1258.7" style="fill: #1f77b4; stroke: #000000; stroke-width: 2.2"/>
     <use xlink:href="#m9b4687b812" x="799.5" y="1262.5" style="fill: #1f77b4; stroke: #000000; stroke-width: 2.2"/>
     <use xlink:href="#m9b4687b812" x="818.6" y="1253.3" style="fill: #1f77b4; stroke: #000000; stroke-width: 2.2"/>
     <use xlink:href="#m9b4687b812" x="846.3" y="1253.3" style="fill: #1f77b4; stroke: #000000; stroke-width: 2.2"/>
     <use xlink:href="#m9b4687b812" x="878.8" y="1248" style="fill: #1f77b4; stroke: #000000; stroke-width: 2.2"/>
     <use xlink:href="#m9b4687b812" x="912.8" y="1256.7" style="fill: #1f77b4; stroke: #000000; stroke-width: 2.2"/>
     <use xlink:href="#m9b4687b812" x="943.4" y="1234.3" style="fill: #1f77b4; stroke: #000000; stroke-width: 2.2"/>
     <use xlink:href="#m9b4687b812" x="976.3" y="1210" style="fill: #1f77b4; stroke: #000000; stroke-width: 2.2"/>
     <use xlink:href="#m9b4687b812" x="1046.5" y="1141.7" style="fill: #1f77b4; stroke: #000000; stroke-width: 2.2"/>
    </g>
   </g>
   <g id="line2d_187">
    <g clip-path="url(#p17567d8ba6)">
     <use xlink:href="#m0f5a072384" x="240.7" y="1267.9" style="stroke: #000000; stroke-width: 2.2"/>
     <use xlink:href="#m0f5a072384" x="386.5" y="1267.9" style="stroke: #000000; stroke-width: 2.2"/>
     <use xlink:href="#m0f5a072384" x="458.6" y="1267" style="stroke: #000000; stroke-width: 2.2"/>
     <use xlink:href="#m0f5a072384" x="521.8" y="1265.8" style="stroke: #000000; stroke-width: 2.2"/>
     <use xlink:href="#m0f5a072384" x="581.8" y="1267" style="stroke: #000000; stroke-width: 2.2"/>
     <use xlink:href="#m0f5a072384" x="640" y="1267.7" style="stroke: #000000; stroke-width: 2.2"/>
     <use xlink:href="#m0f5a072384" x="679.9" y="1266" style="stroke: #000000; stroke-width: 2.2"/>
     <use xlink:href="#m0f5a072384" x="712.3" y="1263.3" style="stroke: #000000; stroke-width: 2.2"/>
     <use xlink:href="#m0f5a072384" x="746.8" y="1264.3" style="stroke: #000000; stroke-width: 2.2"/>
     <use xlink:href="#m0f5a072384" x="775.7" y="1266.7" style="stroke: #000000; stroke-width: 2.2"/>
     <use xlink:href="#m0f5a072384" x="799.5" y="1270" style="stroke: #000000; stroke-width: 2.2"/>
     <use xlink:href="#m0f5a072384" x="818.6" y="1265" style="stroke: #000000; stroke-width: 2.2"/>
     <use xlink:href="#m0f5a072384" x="846.3" y="1263.3" style="stroke: #000000; stroke-width: 2.2"/>
     <use xlink:href="#m0f5a072384" x="878.8" y="1263.3" style="stroke: #000000; stroke-width: 2.2"/>
     <use xlink:href="#m0f5a072384" x="912.8" y="1268.3" style="stroke: #000000; stroke-width: 2.2"/>
     <use xlink:href="#m0f5a072384" x="943.4" y="1263.3" style="stroke: #000000; stroke-width: 2.2"/>
     <use xlink:href="#m0f5a072384" x="976.3" y="1262.3" style="stroke: #000000; stroke-width: 2.2"/>
     <use xlink:href="#m0f5a072384" x="1046.5" y="1232.3" style="stroke: #000000; stroke-width: 2.2"/>
    </g>
   </g>
  </g>
  <g id="axes_3">
   <g id="patch_18">
    <path d="M 177.5 616.4 
L 479.9 616.4 
Q 488.9 616.4 488.9 625.4 
L 488.9 890.5 
Q 488.9 899.5 479.9 899.5 
L 177.5 899.5 
Q 168.5 899.5 168.5 890.5 
L 168.5 625.4 
Q 168.5 616.4 177.5 616.4 
z
" clip-path="url(#p67b77c730f)" style="fill: #ff4500; opacity: 0.068; stroke: #000000; stroke-width: 1.4; stroke-linejoin: miter"/>
   </g>
   <g id="patch_19">
    <path d="M 1287 23.1 
L 1469.4 23.1 
Q 1476.9 23.1 1476.9 30.6 
L 1476.9 207.3 
Q 1476.9 214.8 1469.4 214.8 
L 1287 214.8 
Q 1279.5 214.8 1279.5 207.3 
L 1279.5 30.6 
Q 1279.5 23.1 1287 23.1 
z
" clip-path="url(#p67b77c730f)" style="fill: #ffffff; opacity: 0.8; stroke: #cccccc; stroke-width: 2; stroke-linejoin: miter"/>
   </g>
   <g id="matplotlib.axis_5"/>
   <g id="matplotlib.axis_6"/>
   <g id="line2d_188">
    <path d="M 1293.9 54.5 
L 1364.8 54.5 
" clip-path="url(#p67b77c730f)" style="fill: none; stroke-dasharray: 13.45,5.5; stroke-dashoffset: 0; stroke: #000000; stroke-width: 3.9"/>
   </g>
   <g id="line2d_189">
    <path d="M 1293.9 114.3 
L 1364.8 114.3 
" clip-path="url(#p67b77c730f)" style="fill: none; stroke-dasharray: 23.1,5.5,3.8,5.5; stroke-dashoffset: 0; stroke: #000000; stroke-width: 3.9"/>
   </g>
   <g id="line2d_190">
    <path d="M 1293.9 174 
L 1364.8 174 
" clip-path="url(#p67b77c730f)" style="fill: none; stroke-dasharray: 3.8,5.67; stroke-dashoffset: 0; stroke: #000000; stroke-width: 3.9"/>
   </g>
   <g id="text_19">
    <g transform="translate(180.3 659)">
     <text><tspan x="0.000" y="-0.217188" style="font-style: oblique; font-size: 33.3px; font-family: 'DejaVu Sans', 'Liberation Sans', sans-serif">W</tspan><tspan x="32.877" y="6.497" style="font-size: 23.31px; font-family: 'DejaVu Sans', 'Liberation Sans', sans-serif">0</tspan> <tspan x="55.065" y="-0.217188" style="font-size: 33.3px; font-family: 'DejaVu Sans', 'Liberation Sans', sans-serif">=</tspan><tspan x="89.403 110.558 121.127 142.281" y="-0.217188" style="font-size: 33.3px; font-family: 'DejaVu Sans', 'Liberation Sans', sans-serif">6.95</tspan><tspan x="163.752 183.254 198.062 205.461" y="-13.450" style="font-size: 23.31px; font-family: 'DejaVu Sans', 'Liberation Sans', sans-serif">+0.3</tspan><tspan x="163.752 183.254 198.062 205.461" y="10.106" style="font-size: 23.31px; font-family: 'DejaVu Sans', 'Liberation Sans', sans-serif">−0.4</tspan></text>
    </g>
   </g>
   <g id="text_20">
    <g transform="translate(180.3 711.8)">
     <text><tspan x="0.000" y="-0.217188" style="font-style: oblique; font-size: 33.3px; font-family: 'DejaVu Sans', 'Liberation Sans', sans-serif">c</tspan><tspan x="24.759" y="-0.217188" style="font-size: 33.3px; font-family: 'DejaVu Sans', 'Liberation Sans', sans-serif">=</tspan><tspan x="59.097 80.251 90.821 111.975" y="-0.217188" style="font-size: 33.3px; font-family: 'DejaVu Sans', 'Liberation Sans', sans-serif">1.51</tspan><tspan x="133.446 152.948 167.756 175.154 189.963" y="-13.450" style="font-size: 23.31px; font-family: 'DejaVu Sans', 'Liberation Sans', sans-serif">+0.10</tspan><tspan x="133.446 152.948 167.756 175.154 189.963" y="10.106" style="font-size: 23.31px; font-family: 'DejaVu Sans', 'Liberation Sans', sans-serif">−0.10</tspan></text>
    </g>
   </g>
   <g id="text_21">
    <g transform="translate(180.3 765.3)">
     <text><tspan x="0.000" y="-0.523438" style="font-style: oblique; font-size: 33.3px; font-family: 'DejaVu Sans', 'Liberation Sans', sans-serif">r</tspan><tspan x="13.670" y="4.890625" style="font-style: oblique; font-size: 23.31px; font-family: 'DejaVu Sans', 'Liberation Sans', sans-serif">c</tspan> <tspan x="33.847" y="-0.523438" style="font-size: 33.3px; font-family: 'DejaVu Sans', 'Liberation Sans', sans-serif">=</tspan><tspan x="68.185 89.340" y="-0.523438" style="font-size: 33.3px; font-family: 'DejaVu Sans', 'Liberation Sans', sans-serif">10</tspan><tspan x="110.810 130.312" y="-13.756" style="font-size: 23.31px; font-family: 'DejaVu Sans', 'Liberation Sans', sans-serif">+1</tspan><tspan x="110.810 130.312" y="9.800" style="font-size: 23.31px; font-family: 'DejaVu Sans', 'Liberation Sans', sans-serif">−1</tspan><tspan x="146.023 156.592 176.967 190.637 208.918 226.241 246.698" y="-0.523438" style="font-size: 33.3px; font-family: 'DejaVu Sans', 'Liberation Sans', sans-serif"> arcsec</tspan></text>
    </g>
   </g>
   <g id="text_22">
    <g transform="translate(180.3 819.2)">
     <text><tspan x="0.000" y="-0.217188" style="font-style: oblique; font-size: 33.3px; font-family: 'DejaVu Sans', 'Liberation Sans', sans-serif">r</tspan><tspan x="13.670 28.422" y="5.196875" style="font-style: oblique; font-size: 23.31px; font-family: 'DejaVu Sans', 'Liberation Sans', sans-serif">hm</tspan> <tspan x="58.475" y="-0.217188" style="font-size: 33.3px; font-family: 'DejaVu Sans', 'Liberation Sans', sans-serif">=</tspan><tspan x="92.812 113.967" y="-0.217188" style="font-size: 33.3px; font-family: 'DejaVu Sans', 'Liberation Sans', sans-serif">40</tspan><tspan x="135.437 154.939" y="-13.450" style="font-size: 23.31px; font-family: 'DejaVu Sans', 'Liberation Sans', sans-serif">+6</tspan><tspan x="135.437 154.939" y="10.106" style="font-size: 23.31px; font-family: 'DejaVu Sans', 'Liberation Sans', sans-serif">−4</tspan><tspan x="170.650 181.219 201.595 215.265 233.546 250.869 271.325" y="-0.217188" style="font-size: 33.3px; font-family: 'DejaVu Sans', 'Liberation Sans', sans-serif"> arcsec</tspan></text>
    </g>
   </g>
   <g id="text_23">
    <g transform="translate(180.3 872.6)">
     <text><tspan x="0.000" y="-0.523438" style="font-style: oblique; font-size: 33.3px; font-family: 'DejaVu Sans', 'Liberation Sans', sans-serif">r</tspan><tspan x="13.670" y="4.890625" style="font-style: oblique; font-size: 23.31px; font-family: 'DejaVu Sans', 'Liberation Sans', sans-serif">t</tspan> <tspan x="30.176" y="-0.523438" style="font-size: 33.3px; font-family: 'DejaVu Sans', 'Liberation Sans', sans-serif">=</tspan><tspan x="64.514 85.669 106.823" y="-0.523438" style="font-size: 33.3px; font-family: 'DejaVu Sans', 'Liberation Sans', sans-serif">345</tspan><tspan x="128.294 147.796 162.604" y="-13.756" style="font-size: 23.31px; font-family: 'DejaVu Sans', 'Liberation Sans', sans-serif">+75</tspan><tspan x="128.294 147.796 162.604" y="9.800" style="font-size: 23.31px; font-family: 'DejaVu Sans', 'Liberation Sans', sans-serif">−52</tspan><tspan x="178.315 188.884 209.259 222.929 241.210 258.534 278.990" y="-0.523438" style="font-size: 33.3px; font-family: 'DejaVu Sans', 'Liberation Sans', sans-serif"> arcsec</tspan></text>
    </g>
   </g>
   <g id="text_24">
    <g transform="translate(1402 68.2)">
     <text><tspan x="0.000" y="-0.28125" style="font-style: oblique; font-size: 37.3px; font-family: 'DejaVu Sans', 'Liberation Sans', sans-serif">r</tspan><tspan x="15.315" y="5.789062" style="font-style: oblique; font-size: 26.11px; font-family: 'DejaVu Sans', 'Liberation Sans', sans-serif">c</tspan></text>
    </g>
   </g>
   <g id="text_25">
    <g transform="translate(1402 128.2)">
     <text><tspan x="0.000" y="-0.28125" style="font-style: oblique; font-size: 37.3px; font-family: 'DejaVu Sans', 'Liberation Sans', sans-serif">r</tspan><tspan x="15.315 31.841" y="5.789062" style="font-style: oblique; font-size: 26.11px; font-family: 'DejaVu Sans', 'Liberation Sans', sans-serif">hm</tspan></text>
    </g>
   </g>
   <g id="text_26">
    <g transform="translate(1402 188)">
     <text><tspan x="0.000" y="-0.28125" style="font-style: oblique; font-size: 37.3px; font-family: 'DejaVu Sans', 'Liberation Sans', sans-serif">r</tspan><tspan x="15.315" y="5.789062" style="font-style: oblique; font-size: 26.11px; font-family: 'DejaVu Sans', 'Liberation Sans', sans-serif">t</tspan></text>
    </g>
   </g>
  </g>
 </g>
 <defs>
  <clipPath id="pf368dae28a">
   <rect x="146.6" y="4.1" width="1349.1" height="1121.9"/>
  </clipPath>
  <clipPath id="p17567d8ba6">
   <rect x="146.6" y="1126" width="1349.1" height="281.3"/>
  </clipPath>
  <clipPath id="p67b77c730f">
   <rect x="0" y="0" width="1500" height="1493"/>
  </clipPath>
 </defs>
</svg>

</body></html>
